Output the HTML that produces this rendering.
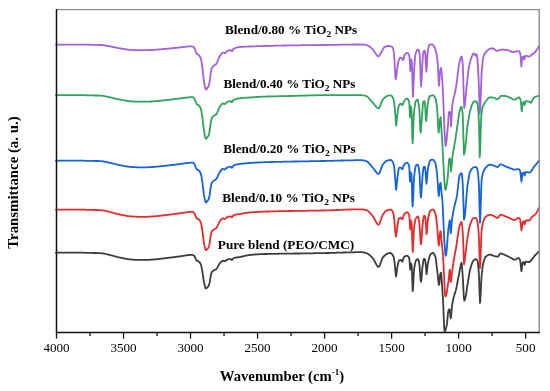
<!DOCTYPE html>
<html><head><meta charset="utf-8"><style>
html,body{margin:0;padding:0;background:#fff;overflow:hidden;width:550px;height:391px;}
svg{display:block;}
text{font-family:"Liberation Serif","Times New Roman",serif;fill:#000;}
.tl{font-size:13.1px;}
.cl{font-size:12.4px;font-weight:bold;}
.ax{font-size:14px;font-weight:bold;}
</style></head><body>
<svg width="550" height="391" viewBox="0 0 550 391">
<rect width="550" height="391" fill="#fff"/>
<g fill="none" stroke-width="1.8" stroke-linejoin="round" stroke-linecap="round"><path d="M56.0,44.6 56.4,44.6 56.7,44.6 57.0,44.6 57.4,44.6 57.8,44.6 58.1,44.6 58.5,44.6 58.8,44.6 59.1,44.6 59.5,44.6 59.9,44.6 60.2,44.6 60.5,44.6 60.9,44.6 61.2,44.6 61.6,44.6 62.0,44.6 62.3,44.6 62.6,44.6 63.0,44.6 63.4,44.6 63.7,44.6 64.0,44.6 64.4,44.6 64.8,44.6 65.1,44.6 65.5,44.6 65.8,44.6 66.2,44.6 66.5,44.6 66.8,44.6 67.2,44.6 67.5,44.6 67.9,44.6 68.2,44.6 68.6,44.6 69.0,44.6 69.3,44.6 69.7,44.6 70.0,44.6 70.4,44.6 70.7,44.6 71.1,44.6 71.4,44.6 71.8,44.6 72.1,44.6 72.5,44.6 72.9,44.6 73.2,44.6 73.6,44.6 73.9,44.6 74.3,44.6 74.6,44.6 75.0,44.6 75.4,44.6 75.7,44.6 76.1,44.6 76.4,44.6 76.8,44.6 77.1,44.6 77.5,44.6 77.9,44.6 78.2,44.6 78.6,44.6 78.9,44.6 79.3,44.6 79.6,44.6 80.0,44.6 80.4,44.6 80.7,44.6 81.1,44.6 81.4,44.6 81.8,44.6 82.1,44.6 82.5,44.6 82.8,44.6 83.2,44.6 83.5,44.6 83.9,44.6 84.2,44.6 84.6,44.6 84.9,44.6 85.3,44.6 85.6,44.6 86.0,44.7 86.4,44.7 86.7,44.7 87.1,44.7 87.4,44.7 87.8,44.7 88.1,44.7 88.5,44.7 88.8,44.7 89.2,44.7 89.5,44.7 89.9,44.7 90.2,44.7 90.6,44.7 90.9,44.7 91.3,44.8 91.6,44.8 92.0,44.8 92.4,44.8 92.7,44.8 93.1,44.8 93.5,44.8 93.8,44.8 94.2,44.8 94.5,44.8 94.9,44.8 95.3,44.8 95.6,44.8 96.0,44.8 96.4,44.9 96.7,44.9 97.1,44.9 97.4,44.9 97.8,44.9 98.2,44.9 98.5,44.9 98.9,44.9 99.3,44.9 99.6,45.0 100.0,45.0 100.3,45.0 100.7,45.0 101.1,45.0 101.4,45.0 101.8,45.0 102.2,45.1 102.5,45.1 102.9,45.1 103.3,45.2 103.7,45.2 104.0,45.3 104.4,45.4 104.8,45.4 105.1,45.5 105.5,45.6 105.9,45.6 106.3,45.7 106.6,45.8 107.0,45.8 107.4,45.9 107.7,46.0 108.1,46.0 108.4,46.1 108.8,46.2 109.1,46.2 109.5,46.3 109.8,46.4 110.2,46.4 110.6,46.5 110.9,46.6 111.3,46.7 111.6,46.7 112.0,46.8 112.3,46.9 112.7,47.0 113.1,47.0 113.4,47.1 113.8,47.2 114.1,47.3 114.5,47.3 114.8,47.4 115.2,47.5 115.5,47.6 115.9,47.6 116.2,47.7 116.6,47.8 116.9,47.9 117.3,47.9 117.6,48.0 118.0,48.1 118.4,48.1 118.7,48.2 119.1,48.3 119.5,48.3 119.9,48.4 120.2,48.5 120.6,48.5 121.0,48.6 121.4,48.6 121.7,48.7 122.1,48.7 122.5,48.8 122.9,48.9 123.2,48.9 123.6,49.0 124.0,49.0 124.3,49.1 124.7,49.1 125.0,49.2 125.4,49.3 125.8,49.3 126.1,49.4 126.5,49.4 126.8,49.5 127.2,49.5 127.6,49.6 127.9,49.6 128.3,49.7 128.6,49.7 129.0,49.8 129.4,49.8 129.7,49.8 130.1,49.8 130.5,49.9 130.8,49.9 131.2,49.9 131.6,49.9 131.9,50.0 132.3,50.0 132.7,50.0 133.0,50.0 133.4,50.0 133.8,50.1 134.1,50.1 134.5,50.1 134.9,50.1 135.2,50.1 135.6,50.1 136.0,50.1 136.3,50.1 136.7,50.2 137.1,50.2 137.4,50.2 137.8,50.2 138.2,50.2 138.5,50.2 138.9,50.2 139.3,50.2 139.6,50.2 140.0,50.2 140.4,50.2 140.7,50.2 141.1,50.2 141.5,50.2 141.8,50.2 142.2,50.2 142.6,50.2 142.9,50.2 143.3,50.2 143.7,50.2 144.0,50.2 144.4,50.2 144.8,50.2 145.1,50.2 145.5,50.2 145.9,50.2 146.2,50.2 146.6,50.2 147.0,50.2 147.3,50.2 147.7,50.2 148.1,50.2 148.4,50.1 148.8,50.1 149.2,50.1 149.5,50.1 149.9,50.1 150.3,50.1 150.6,50.0 151.0,50.0 151.4,50.0 151.7,50.0 152.1,50.0 152.4,50.0 152.8,49.9 153.2,49.9 153.5,49.9 153.9,49.9 154.2,49.9 154.6,49.8 155.0,49.8 155.3,49.8 155.7,49.7 156.0,49.7 156.4,49.7 156.8,49.7 157.1,49.6 157.5,49.6 157.9,49.6 158.3,49.5 158.6,49.5 159.0,49.5 159.4,49.4 159.8,49.4 160.1,49.4 160.5,49.3 160.9,49.3 161.3,49.3 161.6,49.2 162.0,49.2 162.4,49.2 162.7,49.1 163.1,49.1 163.4,49.1 163.8,49.0 164.1,49.0 164.5,49.0 164.8,48.9 165.2,48.9 165.5,48.9 165.9,48.8 166.2,48.8 166.6,48.8 166.9,48.7 167.3,48.7 167.7,48.7 168.0,48.6 168.4,48.6 168.7,48.6 169.1,48.5 169.5,48.5 169.8,48.5 170.2,48.4 170.5,48.4 170.9,48.4 171.3,48.3 171.6,48.3 172.0,48.3 172.3,48.2 172.7,48.2 173.1,48.1 173.4,48.1 173.8,48.1 174.2,48.0 174.5,48.0 174.9,48.0 175.3,47.9 175.6,47.9 176.0,47.9 176.4,47.8 176.7,47.8 177.1,47.7 177.5,47.7 177.8,47.7 178.2,47.6 178.6,47.6 178.9,47.5 179.3,47.5 179.6,47.5 180.0,47.4 180.4,47.4 180.7,47.3 181.1,47.3 181.4,47.3 181.8,47.2 182.2,47.2 182.5,47.1 182.9,47.1 183.2,47.0 183.6,47.0 184.0,47.0 184.3,46.9 184.7,46.9 185.1,46.8 185.4,46.8 185.8,46.7 186.2,46.7 186.5,46.6 186.9,46.6 187.3,46.6 187.6,46.5 188.0,46.5 188.4,46.4 188.7,46.4 189.1,46.4 189.5,46.4 189.9,46.3 190.3,46.3 190.7,46.3 191.1,46.3 191.5,46.3 191.9,46.3 192.2,46.4 192.6,46.5 193.0,46.7 193.4,47.0 193.9,47.4 194.3,48.0 194.7,48.8 195.1,49.9 195.5,51.0 195.9,52.0 196.3,52.8 196.6,53.5 197.0,54.0 197.4,54.2 197.9,54.4 198.3,54.6 198.7,54.9 199.2,55.4 199.6,56.0 200.0,56.7 200.4,57.5 200.8,58.6 201.2,60.0 201.6,61.9 201.9,64.5 202.3,67.3 202.7,70.3 203.0,73.5 203.4,76.6 203.8,80.1 204.3,83.4 204.7,85.9 205.1,87.6 205.5,89.0 205.9,89.6 206.3,89.4 206.7,89.0 207.0,88.4 207.4,87.9 207.8,87.4 208.3,86.7 208.7,85.9 209.1,84.3 209.6,81.9 210.1,78.0 210.6,73.9 211.1,70.7 211.6,68.6 212.0,67.8 212.4,67.2 212.8,66.7 213.2,66.3 213.6,65.9 214.0,65.6 214.4,65.3 214.8,65.1 215.1,64.8 215.5,64.6 215.9,64.3 216.3,63.9 216.7,63.2 217.2,62.3 217.6,61.3 218.0,60.2 218.5,59.0 218.9,58.0 219.3,57.2 219.7,56.5 220.1,55.8 220.5,55.1 220.9,54.6 221.3,54.1 221.7,53.5 222.1,53.1 222.5,52.7 222.9,52.6 223.3,52.7 223.7,52.8 224.1,53.1 224.5,53.2 224.9,53.3 225.3,53.0 225.8,52.5 226.2,52.0 226.6,51.7 227.0,51.3 227.4,51.0 227.8,50.8 228.2,50.6 228.6,50.5 229.0,50.4 229.4,50.3 229.7,50.3 230.1,50.2 230.5,50.2 230.9,50.2 231.4,50.8 231.8,51.3 232.2,51.1 232.6,50.5 232.9,49.8 233.3,49.1 233.7,48.7 234.0,48.5 234.4,48.4 234.8,48.2 235.1,48.1 235.4,47.9 235.8,47.8 236.2,47.7 236.5,47.6 236.8,47.5 237.2,47.4 237.5,47.4 237.9,47.3 238.2,47.2 238.6,47.2 238.9,47.1 239.3,47.1 239.7,47.0 240.0,47.0 240.4,47.0 240.7,46.9 241.1,46.9 241.4,46.9 241.8,46.9 242.1,46.8 242.5,46.8 242.8,46.8 243.2,46.8 243.6,46.7 243.9,46.7 244.3,46.7 244.6,46.7 245.0,46.7 245.3,46.7 245.7,46.7 246.0,46.6 246.4,46.6 246.8,46.6 247.1,46.6 247.5,46.6 247.8,46.6 248.2,46.6 248.5,46.5 248.9,46.5 249.2,46.5 249.6,46.5 249.9,46.5 250.3,46.5 250.7,46.5 251.0,46.4 251.3,46.4 251.7,46.4 252.0,46.4 252.4,46.4 252.8,46.4 253.1,46.4 253.4,46.4 253.8,46.3 254.2,46.3 254.5,46.3 254.8,46.3 255.2,46.3 255.5,46.3 255.9,46.3 256.2,46.3 256.6,46.2 256.9,46.2 257.3,46.2 257.6,46.2 258.0,46.2 258.4,46.2 258.7,46.2 259.1,46.2 259.4,46.2 259.8,46.1 260.1,46.1 260.4,46.1 260.8,46.1 261.1,46.1 261.5,46.1 261.9,46.1 262.2,46.1 262.6,46.1 262.9,46.1 263.2,46.0 263.6,46.0 263.9,46.0 264.3,46.0 264.6,46.0 265.0,46.0 265.4,46.0 265.7,46.0 266.1,46.0 266.4,46.0 266.8,46.0 267.1,45.9 267.5,45.9 267.8,45.9 268.2,45.9 268.5,45.9 268.9,45.9 269.2,45.9 269.6,45.9 270.0,45.9 270.3,45.9 270.7,45.8 271.0,45.8 271.4,45.8 271.7,45.8 272.1,45.8 272.4,45.8 272.8,45.8 273.1,45.8 273.5,45.8 273.9,45.8 274.2,45.8 274.6,45.7 274.9,45.7 275.3,45.7 275.6,45.7 276.0,45.7 276.3,45.7 276.7,45.7 277.0,45.7 277.4,45.7 277.8,45.7 278.1,45.7 278.5,45.6 278.8,45.6 279.2,45.6 279.5,45.6 279.9,45.6 280.2,45.6 280.6,45.6 280.9,45.6 281.3,45.6 281.6,45.6 282.0,45.6 282.4,45.6 282.7,45.5 283.1,45.5 283.4,45.5 283.8,45.5 284.1,45.5 284.5,45.5 284.8,45.5 285.2,45.5 285.5,45.5 285.9,45.5 286.2,45.5 286.6,45.5 287.0,45.5 287.3,45.5 287.7,45.4 288.0,45.4 288.4,45.4 288.7,45.4 289.1,45.4 289.4,45.4 289.8,45.4 290.1,45.4 290.5,45.4 290.9,45.4 291.2,45.4 291.6,45.4 291.9,45.4 292.3,45.4 292.6,45.4 293.0,45.4 293.3,45.4 293.7,45.4 294.0,45.3 294.4,45.3 294.7,45.3 295.1,45.3 295.4,45.3 295.8,45.3 296.2,45.3 296.5,45.3 296.9,45.3 297.2,45.3 297.6,45.3 297.9,45.3 298.3,45.3 298.6,45.3 299.0,45.3 299.3,45.3 299.7,45.3 300.0,45.3 300.4,45.3 300.7,45.3 301.1,45.3 301.5,45.2 301.8,45.2 302.2,45.2 302.5,45.2 302.9,45.2 303.2,45.2 303.6,45.2 303.9,45.2 304.3,45.2 304.6,45.2 305.0,45.2 305.3,45.2 305.7,45.2 306.0,45.2 306.4,45.2 306.8,45.2 307.1,45.2 307.5,45.2 307.8,45.2 308.2,45.2 308.5,45.2 308.9,45.2 309.2,45.2 309.6,45.2 309.9,45.1 310.3,45.1 310.6,45.1 311.0,45.1 311.3,45.1 311.7,45.1 312.0,45.1 312.4,45.1 312.8,45.1 313.1,45.1 313.5,45.1 313.8,45.1 314.2,45.1 314.5,45.1 314.9,45.1 315.2,45.1 315.6,45.1 315.9,45.1 316.3,45.1 316.6,45.1 317.0,45.1 317.3,45.1 317.7,45.1 318.1,45.1 318.4,45.1 318.8,45.1 319.1,45.0 319.5,45.0 319.8,45.0 320.2,45.0 320.5,45.0 320.9,45.0 321.2,45.0 321.6,45.0 321.9,45.0 322.3,45.0 322.6,45.0 323.0,45.0 323.4,45.0 323.7,45.0 324.1,45.0 324.4,45.0 324.8,45.0 325.1,45.0 325.5,45.0 325.8,45.0 326.2,45.0 326.5,45.0 326.9,44.9 327.2,44.9 327.6,44.9 327.9,44.9 328.3,44.9 328.6,44.9 329.0,44.9 329.3,44.9 329.7,44.9 330.0,44.9 330.4,44.9 330.8,44.9 331.1,44.9 331.5,44.9 331.8,44.9 332.2,44.9 332.5,44.9 332.9,44.8 333.2,44.8 333.6,44.8 333.9,44.8 334.3,44.8 334.6,44.8 335.0,44.8 335.3,44.8 335.7,44.8 336.0,44.8 336.4,44.8 336.7,44.8 337.1,44.8 337.4,44.8 337.8,44.8 338.1,44.8 338.5,44.8 338.9,44.7 339.2,44.7 339.6,44.7 339.9,44.7 340.3,44.7 340.6,44.7 341.0,44.7 341.3,44.7 341.7,44.7 342.0,44.7 342.4,44.7 342.7,44.7 343.1,44.7 343.4,44.7 343.8,44.7 344.1,44.7 344.5,44.7 344.8,44.6 345.2,44.6 345.5,44.6 345.9,44.6 346.3,44.6 346.6,44.6 347.0,44.6 347.3,44.6 347.7,44.6 348.0,44.6 348.4,44.6 348.7,44.6 349.1,44.6 349.4,44.6 349.8,44.6 350.1,44.6 350.5,44.6 350.8,44.6 351.2,44.6 351.5,44.6 351.9,44.6 352.2,44.6 352.6,44.5 352.9,44.5 353.3,44.5 353.6,44.5 354.0,44.5 354.4,44.5 354.7,44.5 355.1,44.5 355.4,44.5 355.8,44.5 356.1,44.5 356.5,44.5 356.8,44.5 357.2,44.5 357.5,44.5 357.9,44.5 358.2,44.5 358.6,44.5 358.9,44.5 359.3,44.5 359.6,44.5 360.0,44.5 360.3,44.5 360.7,44.5 361.0,44.5 361.4,44.5 361.8,44.5 362.1,44.5 362.5,44.5 362.8,44.6 363.2,44.6 363.6,44.6 363.9,44.7 364.3,44.7 364.7,44.8 365.0,44.8 365.4,44.9 365.7,44.9 366.1,45.0 366.5,45.1 366.8,45.2 367.2,45.3 367.6,45.4 367.9,45.6 368.3,45.8 368.7,46.0 369.0,46.2 369.4,46.5 369.7,46.7 370.1,47.0 370.5,47.3 370.8,47.6 371.2,47.9 371.6,48.2 371.9,48.5 372.3,48.8 372.7,49.2 373.1,49.7 373.4,50.2 373.8,50.8 374.2,51.4 374.6,52.0 375.0,52.6 375.3,53.2 375.7,53.7 376.1,54.2 376.5,54.7 376.9,55.2 377.2,55.7 377.6,56.1 378.0,56.4 378.4,56.5 378.8,56.3 379.2,55.9 379.5,55.4 379.9,54.7 380.3,54.0 380.7,53.4 381.1,52.8 381.4,52.2 381.8,51.5 382.1,50.8 382.5,50.1 382.8,49.4 383.2,48.8 383.5,48.2 383.9,47.7 384.2,47.3 384.6,47.0 385.0,46.8 385.4,46.6 385.7,46.4 386.1,46.3 386.5,46.2 386.9,46.1 387.2,46.0 387.6,46.0 388.0,46.0 388.3,46.0 388.7,46.0 389.0,46.1 389.4,46.1 389.7,46.1 390.1,46.2 390.4,46.3 390.8,46.3 391.1,46.4 391.5,46.5 391.9,46.7 392.3,47.1 392.7,47.7 393.1,48.5 393.5,49.5 394.0,54.0 394.5,61.0 394.9,68.1 395.3,75.8 395.7,79.4 396.1,77.6 396.6,73.8 397.0,70.2 397.4,67.9 397.7,65.5 398.1,63.3 398.4,61.5 398.8,60.2 399.2,59.2 399.6,58.4 399.9,57.8 400.3,57.6 400.7,57.7 401.1,57.8 401.5,58.0 401.9,58.3 402.3,58.9 402.7,59.8 403.1,60.2 403.5,59.5 403.9,57.8 404.2,56.0 404.6,54.9 405.0,54.4 405.3,54.0 405.7,53.7 406.1,53.4 406.5,53.2 406.8,53.0 407.2,53.0 407.6,53.1 408.0,53.3 408.4,53.6 408.8,54.1 409.2,55.2 409.5,57.5 409.9,61.0 410.3,71.0 410.7,65.2 411.1,59.5 411.5,60.4 411.9,62.6 412.4,80.4 412.9,96.5 413.3,90.6 413.8,78.6 414.2,68.7 414.6,63.6 414.9,58.9 415.3,55.4 415.7,53.3 416.1,52.2 416.5,51.3 416.9,50.5 417.2,50.0 417.6,49.6 418.0,49.5 418.4,49.7 418.7,50.2 419.1,51.0 419.6,54.0 420.0,59.5 420.4,68.7 420.7,80.6 421.1,86.5 421.6,79.5 422.1,68.7 422.5,61.6 423.0,55.1 423.4,51.8 423.8,51.2 424.2,50.7 424.6,50.6 425.1,52.4 425.5,56.4 425.9,65.2 426.4,71.8 426.9,64.3 427.4,54.9 427.8,52.2 428.1,49.9 428.4,47.9 428.8,46.4 429.1,45.4 429.5,44.9 429.9,44.8 430.3,44.6 430.6,44.5 431.0,44.5 431.4,44.4 431.8,44.4 432.2,44.5 432.6,44.7 433.0,45.0 433.3,45.4 433.7,45.9 434.1,46.4 434.5,47.0 434.9,47.9 435.2,48.9 435.6,50.2 436.0,51.7 436.4,53.3 436.8,55.4 437.1,58.1 437.5,61.6 437.9,65.6 438.3,72.7 438.6,81.5 439.0,85.8 439.4,80.4 439.9,73.3 440.4,69.6 440.9,67.9 441.3,69.5 441.7,73.3 442.1,77.9 442.5,83.8 442.9,91.5 443.3,100.0 443.7,109.8 444.1,120.7 444.5,130.0 445.0,140.4 445.5,146.0 445.9,145.2 446.2,143.2 446.6,140.2 446.9,136.7 447.2,133.0 447.6,129.5 448.0,124.7 448.4,118.9 448.7,114.0 449.1,111.9 449.5,112.0 450.0,112.2 450.4,112.6 451.0,126.5 451.4,122.1 451.8,113.2 452.2,106.5 452.6,103.6 453.0,101.3 453.4,99.4 453.8,97.7 454.1,96.2 454.5,94.7 454.9,93.0 455.3,91.1 455.7,89.0 456.1,86.8 456.4,84.5 456.8,82.0 457.2,79.3 457.5,76.2 457.9,73.0 458.3,69.9 458.6,67.1 459.0,65.0 459.4,63.3 459.7,61.6 460.1,60.0 460.4,58.6 460.8,57.5 461.1,56.8 461.5,56.5 461.9,57.7 462.4,61.0 462.8,65.7 463.2,76.3 463.6,90.0 464.3,108.0 464.7,105.8 465.1,102.0 465.5,98.7 465.8,95.1 466.2,91.3 466.5,87.6 466.9,84.2 467.3,80.7 467.7,77.2 468.0,73.8 468.4,70.7 468.8,67.9 469.2,65.7 469.6,63.9 470.0,62.2 470.4,60.7 470.7,59.4 471.1,58.3 471.5,57.3 471.9,56.4 472.3,55.5 472.6,54.7 473.0,54.0 473.4,53.6 473.8,53.4 474.2,53.8 474.6,54.5 475.0,55.3 475.4,55.7 475.8,55.3 476.2,54.6 476.6,54.2 477.0,55.5 477.3,58.6 477.7,62.6 478.1,69.3 478.6,78.8 479.0,90.0 479.7,113.6 480.1,109.5 480.6,99.9 481.0,89.0 481.5,75.0 481.9,69.8 482.3,65.5 482.6,61.9 483.0,59.1 483.4,57.0 483.8,55.7 484.2,54.8 484.6,54.0 485.0,53.3 485.4,52.8 485.7,52.3 486.1,51.9 486.5,51.5 486.9,51.1 487.3,50.7 487.7,50.4 488.0,50.0 488.4,49.7 488.8,49.3 489.2,49.1 489.6,48.8 489.9,48.7 490.3,48.5 490.7,48.5 491.1,48.5 491.5,48.5 491.9,48.5 492.2,48.5 492.6,48.5 493.0,48.5 493.4,48.6 493.7,48.7 494.1,48.9 494.4,49.2 494.8,49.5 495.1,49.8 495.5,50.1 495.8,50.4 496.2,50.6 496.5,50.7 496.9,50.8 497.3,50.8 497.6,50.7 498.0,50.6 498.3,50.5 498.7,50.4 499.0,50.3 499.4,50.1 499.7,50.0 500.1,49.9 500.4,49.8 500.8,49.7 501.1,49.6 501.5,49.6 501.9,49.6 502.2,49.6 502.6,49.6 502.9,49.7 503.3,49.7 503.6,49.7 504.0,49.7 504.3,49.8 504.7,49.8 505.0,49.9 505.4,49.9 505.7,50.0 506.1,50.0 506.5,50.0 506.8,50.1 507.2,50.2 507.5,50.2 507.9,50.3 508.2,50.4 508.6,50.4 508.9,50.5 509.3,50.6 509.6,50.7 510.0,50.8 510.3,51.0 510.7,51.1 511.1,51.4 511.5,51.7 511.8,52.1 512.2,52.2 512.6,52.2 513.0,52.1 513.4,52.1 513.8,52.0 514.1,51.9 514.5,51.8 514.9,51.7 515.3,51.6 515.7,51.5 516.1,51.5 516.4,51.4 516.8,51.3 517.2,51.3 517.6,51.2 518.0,51.2 518.3,51.1 518.7,51.1 519.1,51.1 519.5,51.5 519.9,52.6 520.3,54.3 520.7,56.5 521.4,66.5 521.8,62.5 522.2,58.0 522.6,57.2 522.9,56.7 523.3,56.5 523.8,58.0 524.2,59.6 524.6,58.6 524.9,56.7 525.3,55.7 525.7,55.7 526.1,55.8 526.4,55.9 526.8,56.0 527.2,56.1 527.6,56.2 528.0,56.3 528.3,56.4 528.7,56.5 529.1,56.5 529.5,56.4 529.9,56.2 530.3,56.0 530.7,55.6 531.0,55.3 531.4,54.9 531.8,54.5 532.2,54.2 532.6,53.9 533.0,53.7 533.4,53.4 533.8,53.2 534.1,52.9 534.5,52.6 534.9,52.3 535.3,51.9 535.7,51.4 536.0,50.8 536.4,50.2 536.8,49.6 537.2,49.0 537.5,48.4 537.9,47.8 538.3,47.3 538.6,46.9 539.0,46.5" stroke="#a45ee0" /><path d="M56.0,95.2 56.4,95.2 56.7,95.2 57.0,95.2 57.4,95.2 57.8,95.2 58.1,95.2 58.5,95.2 58.8,95.2 59.1,95.2 59.5,95.2 59.9,95.2 60.2,95.2 60.5,95.2 60.9,95.2 61.2,95.2 61.6,95.2 62.0,95.2 62.3,95.2 62.6,95.2 63.0,95.2 63.4,95.2 63.7,95.2 64.0,95.2 64.4,95.2 64.8,95.2 65.1,95.2 65.5,95.2 65.8,95.2 66.2,95.2 66.5,95.2 66.8,95.2 67.2,95.2 67.5,95.2 67.9,95.2 68.2,95.2 68.6,95.2 69.0,95.2 69.3,95.2 69.7,95.2 70.0,95.2 70.4,95.2 70.7,95.2 71.1,95.2 71.4,95.2 71.8,95.2 72.1,95.2 72.5,95.2 72.9,95.2 73.2,95.2 73.6,95.2 73.9,95.2 74.3,95.2 74.6,95.2 75.0,95.2 75.4,95.2 75.7,95.2 76.1,95.2 76.4,95.2 76.8,95.2 77.1,95.2 77.5,95.2 77.9,95.2 78.2,95.2 78.6,95.2 78.9,95.2 79.3,95.2 79.6,95.2 80.0,95.2 80.4,95.2 80.7,95.2 81.1,95.2 81.4,95.2 81.8,95.2 82.1,95.2 82.5,95.2 82.8,95.2 83.2,95.2 83.5,95.2 83.9,95.2 84.2,95.2 84.6,95.2 84.9,95.2 85.3,95.3 85.6,95.3 86.0,95.3 86.4,95.3 86.7,95.3 87.1,95.3 87.4,95.3 87.8,95.3 88.1,95.3 88.5,95.3 88.8,95.3 89.2,95.3 89.5,95.3 89.9,95.3 90.2,95.4 90.6,95.4 90.9,95.4 91.3,95.4 91.6,95.4 92.0,95.4 92.4,95.4 92.7,95.4 93.1,95.4 93.5,95.4 93.8,95.4 94.2,95.4 94.5,95.5 94.9,95.5 95.3,95.5 95.6,95.5 96.0,95.5 96.4,95.5 96.7,95.5 97.1,95.5 97.4,95.5 97.8,95.5 98.2,95.6 98.5,95.6 98.9,95.6 99.3,95.6 99.6,95.6 100.0,95.6 100.3,95.6 100.7,95.7 101.1,95.7 101.4,95.7 101.8,95.7 102.2,95.7 102.5,95.8 102.9,95.8 103.3,95.9 103.7,95.9 104.0,96.0 104.4,96.1 104.8,96.2 105.1,96.2 105.5,96.3 105.9,96.4 106.3,96.5 106.6,96.6 107.0,96.6 107.4,96.7 107.7,96.8 108.1,96.9 108.4,96.9 108.8,97.0 109.1,97.1 109.5,97.2 109.8,97.3 110.2,97.3 110.6,97.4 110.9,97.5 111.3,97.6 111.6,97.7 112.0,97.8 112.3,97.8 112.7,97.9 113.1,98.0 113.4,98.1 113.8,98.2 114.1,98.3 114.5,98.4 114.8,98.5 115.2,98.6 115.5,98.6 115.9,98.7 116.2,98.8 116.6,98.9 116.9,99.0 117.3,99.1 117.6,99.2 118.0,99.2 118.4,99.3 118.7,99.4 119.1,99.5 119.5,99.5 119.9,99.6 120.2,99.7 120.6,99.7 121.0,99.8 121.4,99.9 121.7,99.9 122.1,100.0 122.5,100.1 122.9,100.1 123.2,100.2 123.6,100.3 124.0,100.3 124.3,100.4 124.7,100.5 125.0,100.5 125.4,100.6 125.8,100.7 126.1,100.7 126.5,100.8 126.8,100.9 127.2,100.9 127.6,101.0 127.9,101.0 128.3,101.1 128.6,101.1 129.0,101.2 129.4,101.2 129.7,101.3 130.1,101.3 130.5,101.3 130.8,101.3 131.2,101.4 131.6,101.4 131.9,101.4 132.3,101.5 132.7,101.5 133.0,101.5 133.4,101.5 133.8,101.5 134.1,101.6 134.5,101.6 134.9,101.6 135.2,101.6 135.6,101.6 136.0,101.6 136.3,101.6 136.7,101.6 137.1,101.7 137.4,101.7 137.8,101.7 138.2,101.7 138.5,101.7 138.9,101.7 139.3,101.7 139.6,101.7 140.0,101.7 140.4,101.7 140.7,101.7 141.1,101.7 141.5,101.7 141.8,101.7 142.2,101.7 142.6,101.7 142.9,101.7 143.3,101.7 143.7,101.7 144.0,101.7 144.4,101.7 144.8,101.7 145.1,101.7 145.5,101.7 145.9,101.7 146.2,101.7 146.6,101.7 147.0,101.7 147.3,101.7 147.7,101.7 148.1,101.6 148.4,101.6 148.8,101.6 149.2,101.6 149.5,101.6 149.9,101.6 150.3,101.5 150.6,101.5 151.0,101.5 151.4,101.5 151.7,101.5 152.1,101.4 152.4,101.4 152.8,101.4 153.2,101.4 153.5,101.3 153.9,101.3 154.2,101.3 154.6,101.3 155.0,101.2 155.3,101.2 155.7,101.2 156.0,101.1 156.4,101.1 156.8,101.1 157.1,101.0 157.5,101.0 157.9,101.0 158.3,100.9 158.6,100.9 159.0,100.9 159.4,100.8 159.8,100.8 160.1,100.7 160.5,100.7 160.9,100.7 161.3,100.6 161.6,100.6 162.0,100.5 162.4,100.5 162.7,100.5 163.1,100.4 163.4,100.4 163.8,100.3 164.1,100.3 164.5,100.3 164.8,100.2 165.2,100.2 165.5,100.1 165.9,100.1 166.2,100.1 166.6,100.0 166.9,100.0 167.3,99.9 167.7,99.9 168.0,99.9 168.4,99.8 168.7,99.8 169.1,99.8 169.5,99.7 169.8,99.7 170.2,99.6 170.5,99.6 170.9,99.6 171.3,99.5 171.6,99.5 172.0,99.4 172.3,99.4 172.7,99.4 173.1,99.3 173.4,99.3 173.8,99.2 174.2,99.2 174.5,99.2 174.9,99.1 175.3,99.1 175.6,99.0 176.0,99.0 176.4,98.9 176.7,98.9 177.1,98.8 177.5,98.8 177.8,98.8 178.2,98.7 178.6,98.7 178.9,98.6 179.3,98.6 179.6,98.5 180.0,98.5 180.4,98.4 180.7,98.4 181.1,98.3 181.4,98.3 181.8,98.2 182.2,98.2 182.5,98.1 182.9,98.1 183.2,98.0 183.6,98.0 184.0,97.9 184.3,97.9 184.7,97.8 185.1,97.8 185.4,97.7 185.8,97.7 186.2,97.6 186.5,97.6 186.9,97.5 187.3,97.5 187.6,97.4 188.0,97.4 188.4,97.3 188.7,97.3 189.1,97.3 189.5,97.3 189.9,97.2 190.3,97.2 190.7,97.2 191.1,97.2 191.5,97.2 191.9,97.2 192.2,97.2 192.6,97.2 193.0,97.3 193.4,97.5 193.9,98.0 194.3,98.6 194.7,99.3 195.1,100.4 195.5,101.5 195.9,102.4 196.3,103.2 196.6,103.9 197.0,104.4 197.4,104.6 197.9,104.8 198.3,105.0 198.7,105.3 199.2,105.8 199.6,106.3 200.0,107.0 200.4,107.8 200.8,108.9 201.2,110.2 201.6,112.0 201.9,114.5 202.3,117.2 202.7,120.1 203.0,123.2 203.4,126.2 203.8,129.5 204.3,132.7 204.7,135.1 205.1,136.8 205.5,138.1 205.9,138.7 206.3,138.5 206.7,138.1 207.0,137.6 207.4,137.1 207.8,136.6 208.3,136.0 208.7,135.2 209.1,133.6 209.6,131.3 210.1,127.6 210.6,123.7 211.1,120.7 211.6,118.6 212.0,117.8 212.4,117.2 212.8,116.8 213.2,116.4 213.6,116.0 214.0,115.7 214.4,115.5 214.8,115.3 215.1,115.1 215.5,114.8 215.9,114.5 216.3,114.2 216.7,113.5 217.2,112.6 217.6,111.7 218.0,110.7 218.5,109.5 218.9,108.5 219.3,107.8 219.7,107.1 220.1,106.4 220.5,105.8 220.9,105.3 221.3,104.8 221.7,104.3 222.1,103.9 222.5,103.5 222.9,103.4 223.3,103.5 223.7,103.7 224.1,103.9 224.5,104.0 224.9,104.1 225.3,103.9 225.8,103.4 226.2,102.9 226.6,102.6 227.0,102.2 227.4,102.0 227.8,101.7 228.2,101.6 228.6,101.5 229.0,101.4 229.4,101.4 229.7,101.3 230.1,101.3 230.5,101.2 230.9,101.2 231.4,101.8 231.8,102.3 232.2,102.1 232.6,101.5 232.9,100.8 233.3,100.2 233.7,99.8 234.0,99.7 234.4,99.5 234.8,99.4 235.1,99.3 235.4,99.2 235.8,99.1 236.2,99.0 236.5,98.9 236.8,98.8 237.2,98.7 237.5,98.7 237.9,98.6 238.2,98.5 238.6,98.5 238.9,98.4 239.3,98.4 239.7,98.3 240.0,98.3 240.4,98.3 240.7,98.2 241.1,98.2 241.4,98.1 241.8,98.1 242.1,98.1 242.5,98.0 242.8,98.0 243.2,98.0 243.6,97.9 243.9,97.9 244.3,97.9 244.6,97.8 245.0,97.8 245.3,97.8 245.7,97.8 246.0,97.7 246.4,97.7 246.8,97.7 247.1,97.7 247.5,97.6 247.8,97.6 248.2,97.6 248.5,97.6 248.9,97.5 249.2,97.5 249.6,97.5 249.9,97.5 250.3,97.5 250.7,97.4 251.0,97.4 251.3,97.4 251.7,97.4 252.0,97.3 252.4,97.3 252.8,97.3 253.1,97.3 253.4,97.2 253.8,97.2 254.2,97.2 254.5,97.2 254.8,97.1 255.2,97.1 255.5,97.1 255.9,97.1 256.2,97.0 256.6,97.0 256.9,97.0 257.3,97.0 257.6,97.0 258.0,96.9 258.4,96.9 258.7,96.9 259.1,96.9 259.4,96.9 259.8,96.8 260.1,96.8 260.4,96.8 260.8,96.8 261.1,96.8 261.5,96.7 261.9,96.7 262.2,96.7 262.6,96.7 262.9,96.7 263.2,96.7 263.6,96.7 263.9,96.6 264.3,96.6 264.6,96.6 265.0,96.6 265.4,96.6 265.7,96.6 266.1,96.6 266.4,96.6 266.8,96.5 267.1,96.5 267.5,96.5 267.8,96.5 268.2,96.5 268.5,96.5 268.9,96.5 269.2,96.5 269.6,96.5 269.9,96.4 270.3,96.4 270.6,96.4 271.0,96.4 271.3,96.4 271.7,96.4 272.0,96.4 272.4,96.4 272.7,96.4 273.1,96.4 273.5,96.4 273.8,96.3 274.2,96.3 274.5,96.3 274.9,96.3 275.2,96.3 275.6,96.3 275.9,96.3 276.3,96.3 276.6,96.3 277.0,96.3 277.3,96.3 277.7,96.3 278.0,96.3 278.4,96.2 278.7,96.2 279.1,96.2 279.4,96.2 279.8,96.2 280.1,96.2 280.5,96.2 280.8,96.2 281.2,96.2 281.5,96.2 281.9,96.2 282.3,96.2 282.6,96.2 283.0,96.2 283.3,96.1 283.7,96.1 284.0,96.1 284.4,96.1 284.7,96.1 285.1,96.1 285.4,96.1 285.8,96.1 286.1,96.1 286.5,96.1 286.8,96.1 287.2,96.1 287.5,96.1 287.9,96.0 288.2,96.0 288.6,96.0 288.9,96.0 289.3,96.0 289.6,96.0 290.0,96.0 290.4,96.0 290.7,96.0 291.1,96.0 291.4,96.0 291.8,96.0 292.1,95.9 292.5,95.9 292.8,95.9 293.2,95.9 293.5,95.9 293.9,95.9 294.2,95.9 294.6,95.9 294.9,95.9 295.3,95.9 295.6,95.8 296.0,95.8 296.3,95.8 296.7,95.8 297.0,95.8 297.4,95.8 297.7,95.8 298.1,95.8 298.4,95.8 298.8,95.7 299.1,95.7 299.5,95.7 299.8,95.7 300.2,95.7 300.5,95.7 300.9,95.7 301.2,95.7 301.6,95.7 301.9,95.6 302.3,95.6 302.6,95.6 303.0,95.6 303.3,95.6 303.7,95.6 304.0,95.6 304.4,95.6 304.7,95.6 305.1,95.5 305.4,95.5 305.8,95.5 306.1,95.5 306.5,95.5 306.8,95.5 307.2,95.5 307.5,95.5 307.9,95.5 308.2,95.5 308.6,95.4 308.9,95.4 309.3,95.4 309.6,95.4 310.0,95.4 310.3,95.4 310.7,95.4 311.0,95.4 311.4,95.4 311.7,95.4 312.1,95.4 312.4,95.3 312.8,95.3 313.1,95.3 313.5,95.3 313.8,95.3 314.2,95.3 314.5,95.3 314.9,95.3 315.2,95.3 315.6,95.3 315.9,95.3 316.3,95.3 316.6,95.3 317.0,95.3 317.3,95.2 317.7,95.2 318.0,95.2 318.4,95.2 318.7,95.2 319.1,95.2 319.4,95.2 319.8,95.2 320.1,95.2 320.5,95.2 320.8,95.2 321.2,95.2 321.5,95.2 321.9,95.2 322.2,95.2 322.6,95.2 322.9,95.2 323.3,95.2 323.7,95.2 324.0,95.2 324.4,95.2 324.7,95.2 325.1,95.2 325.4,95.2 325.8,95.2 326.1,95.2 326.4,95.2 326.8,95.2 327.2,95.2 327.5,95.2 327.9,95.2 328.2,95.2 328.6,95.2 328.9,95.2 329.2,95.2 329.6,95.2 329.9,95.2 330.3,95.2 330.7,95.2 331.0,95.2 331.4,95.2 331.7,95.2 332.1,95.2 332.4,95.2 332.8,95.2 333.1,95.2 333.4,95.2 333.8,95.2 334.2,95.2 334.5,95.2 334.9,95.2 335.2,95.2 335.6,95.2 335.9,95.2 336.2,95.2 336.6,95.2 336.9,95.2 337.3,95.2 337.7,95.2 338.0,95.2 338.4,95.2 338.7,95.2 339.1,95.2 339.4,95.2 339.8,95.2 340.1,95.2 340.5,95.2 340.8,95.2 341.2,95.2 341.5,95.2 341.9,95.2 342.2,95.2 342.6,95.2 342.9,95.2 343.2,95.2 343.6,95.2 344.0,95.2 344.3,95.2 344.7,95.2 345.0,95.2 345.4,95.2 345.7,95.2 346.1,95.2 346.4,95.2 346.8,95.2 347.1,95.2 347.5,95.2 347.8,95.2 348.2,95.2 348.5,95.2 348.9,95.2 349.2,95.2 349.6,95.2 349.9,95.2 350.2,95.2 350.6,95.2 351.0,95.2 351.3,95.2 351.7,95.2 352.0,95.2 352.4,95.2 352.7,95.2 353.1,95.2 353.4,95.2 353.8,95.2 354.1,95.2 354.5,95.2 354.8,95.2 355.2,95.2 355.5,95.2 355.9,95.2 356.2,95.2 356.6,95.2 356.9,95.2 357.2,95.2 357.6,95.2 358.0,95.2 358.3,95.2 358.7,95.2 359.0,95.2 359.4,95.2 359.7,95.2 360.1,95.2 360.4,95.2 360.8,95.2 361.1,95.2 361.5,95.2 361.9,95.2 362.2,95.3 362.6,95.3 363.0,95.3 363.4,95.4 363.7,95.5 364.1,95.5 364.5,95.6 364.9,95.7 365.2,95.8 365.6,95.9 366.0,96.0 366.4,96.1 366.7,96.3 367.1,96.5 367.4,96.7 367.8,97.0 368.1,97.4 368.5,97.7 368.8,98.1 369.2,98.5 369.5,98.9 369.9,99.3 370.2,99.7 370.6,100.1 370.9,100.5 371.3,101.0 371.6,101.4 372.0,101.8 372.3,102.1 372.7,102.5 373.1,102.9 373.4,103.3 373.8,103.7 374.1,104.2 374.5,104.7 374.9,105.2 375.2,105.7 375.6,106.1 376.0,106.6 376.3,107.0 376.7,107.3 377.1,107.7 377.4,107.9 377.8,108.1 378.1,108.3 378.5,108.3 378.9,108.2 379.2,107.8 379.6,107.2 380.0,106.4 380.3,105.5 380.7,104.5 381.1,103.5 381.4,102.5 381.8,101.6 382.2,100.7 382.5,100.0 382.9,99.5 383.3,99.1 383.6,98.7 384.0,98.3 384.4,97.9 384.7,97.6 385.1,97.3 385.5,97.0 385.9,96.7 386.2,96.4 386.6,96.2 387.0,96.0 387.3,95.9 387.7,95.8 388.1,95.7 388.5,95.6 388.9,95.6 389.2,95.5 389.6,95.5 390.0,95.4 390.4,95.4 390.8,95.4 391.2,95.5 391.6,95.8 391.9,96.2 392.3,96.8 392.7,97.5 393.1,98.3 393.4,99.3 393.8,100.4 394.2,102.6 394.6,106.3 395.0,110.9 395.4,115.7 395.8,121.7 396.1,125.7 396.5,123.7 396.8,119.4 397.2,115.7 397.6,112.9 398.0,110.2 398.4,107.9 398.8,106.0 399.2,105.0 399.6,104.5 399.9,104.1 400.3,103.8 400.7,103.7 401.1,103.9 401.5,104.3 401.9,104.8 402.3,105.0 402.7,104.6 403.1,103.6 403.4,102.4 403.8,101.6 404.2,101.0 404.6,100.5 405.0,100.0 405.4,99.5 405.7,99.1 406.1,98.8 406.5,98.6 406.9,98.5 407.3,98.6 407.7,98.8 408.0,99.3 408.4,99.9 408.8,100.8 409.2,101.9 409.6,109.9 410.0,117.3 410.7,106.5 411.1,107.4 411.5,109.6 411.9,119.4 412.2,135.2 412.6,143.4 413.0,137.3 413.4,125.0 413.8,115.7 414.2,111.6 414.5,108.1 414.9,105.2 415.2,103.1 415.6,101.9 416.0,101.1 416.4,100.5 416.8,100.0 417.2,99.7 417.6,99.6 418.0,100.3 418.4,102.2 418.8,104.9 419.2,108.0 419.6,113.5 419.9,121.8 420.3,129.3 420.7,132.6 421.1,130.0 421.4,124.3 421.8,118.8 422.2,113.7 422.6,108.3 422.9,104.0 423.3,101.9 423.7,101.5 424.1,101.2 424.5,101.1 424.9,103.4 425.3,108.0 425.7,115.7 426.1,121.1 426.5,119.0 426.9,114.2 427.2,108.8 427.6,105.0 428.0,102.8 428.4,100.8 428.8,99.0 429.1,97.6 429.5,96.6 429.9,96.1 430.3,95.9 430.7,95.8 431.1,95.7 431.4,95.6 431.8,95.5 432.2,95.4 432.6,95.4 433.0,95.4 433.4,95.5 433.8,95.8 434.1,96.2 434.5,96.7 434.9,97.4 435.3,98.1 435.7,99.1 436.0,100.7 436.4,102.7 436.7,105.2 437.1,108.0 437.5,113.7 437.9,121.9 438.3,129.4 438.7,132.6 439.1,129.9 439.5,124.4 439.9,120.3 440.3,118.3 440.7,117.3 441.4,128.0 441.8,135.0 442.3,142.4 442.7,150.0 443.1,158.6 443.6,167.5 444.0,175.0 444.4,181.6 444.9,187.4 445.3,189.9 445.7,189.4 446.1,188.1 446.5,186.2 446.8,183.8 447.2,181.1 447.6,178.4 448.0,174.7 448.3,169.5 448.7,164.2 449.0,160.1 449.4,158.4 449.9,158.8 450.4,160.0 451.0,171.5 451.4,168.8 451.8,163.2 452.2,158.4 452.6,155.5 453.0,152.9 453.4,150.7 453.8,148.6 454.1,146.5 454.5,144.5 454.9,142.3 455.3,140.0 455.7,137.6 456.0,135.1 456.4,132.6 456.8,130.0 457.1,127.5 457.5,125.0 457.9,122.5 458.2,119.9 458.6,117.3 458.9,114.9 459.2,112.9 459.6,111.3 460.0,109.9 460.4,108.7 460.7,107.6 461.1,106.9 461.5,106.6 461.9,107.6 462.3,110.4 462.7,114.4 463.1,125.3 463.5,140.0 464.0,154.7 464.5,153.1 465.0,150.0 465.4,147.0 465.8,143.1 466.2,138.7 466.6,134.2 467.0,130.1 467.4,126.7 467.8,124.0 468.2,121.5 468.6,119.1 468.9,116.8 469.3,114.7 469.7,112.8 470.1,111.2 470.5,109.7 470.9,108.4 471.2,107.1 471.6,105.9 472.0,104.8 472.4,103.8 472.8,103.0 473.1,102.4 473.5,102.0 473.9,101.8 474.3,101.6 474.7,101.4 475.1,101.3 475.5,101.2 475.9,101.2 476.3,101.4 476.6,101.8 477.0,102.6 477.4,103.5 477.8,105.6 478.2,109.8 478.6,115.8 479.0,123.6 479.7,157.3 480.1,151.6 480.5,138.6 480.9,124.6 481.3,115.9 481.7,112.6 482.1,109.9 482.4,108.0 482.8,106.6 483.2,105.6 483.6,104.7 484.0,103.9 484.4,103.3 484.7,102.7 485.1,102.2 485.5,101.7 485.9,101.2 486.3,100.7 486.6,100.3 487.0,99.8 487.3,99.3 487.7,98.9 488.0,98.5 488.4,98.1 488.7,97.8 489.1,97.6 489.4,97.5 489.8,97.4 490.2,97.4 490.6,97.4 490.9,97.4 491.3,97.5 491.7,97.5 492.1,97.5 492.5,97.6 492.8,97.6 493.2,97.7 493.6,97.7 494.0,97.8 494.3,97.9 494.7,98.0 495.0,98.2 495.4,98.4 495.7,98.6 496.1,98.8 496.4,99.0 496.8,99.1 497.1,99.2 497.5,99.2 497.9,99.1 498.2,98.9 498.6,98.6 498.9,98.2 499.3,97.7 499.6,97.3 500.0,96.8 500.3,96.4 500.7,96.1 501.0,95.9 501.4,95.8 501.8,95.8 502.1,95.8 502.5,95.8 502.8,95.8 503.2,95.9 503.5,95.9 503.9,95.9 504.2,95.9 504.6,96.0 504.9,96.0 505.3,96.0 505.6,96.1 506.0,96.1 506.4,96.2 506.7,96.2 507.1,96.4 507.4,96.5 507.8,96.7 508.1,96.8 508.5,97.0 508.8,97.2 509.2,97.4 509.5,97.6 509.9,97.8 510.2,97.9 510.6,98.1 511.0,98.3 511.3,98.4 511.7,98.6 512.0,98.8 512.4,99.0 512.7,99.2 513.1,99.4 513.4,99.5 513.8,99.6 514.1,99.7 514.5,99.7 514.9,99.6 515.3,99.5 515.6,99.3 516.0,99.1 516.4,98.8 516.8,98.6 517.2,98.4 517.6,98.1 518.0,97.9 518.3,97.6 518.7,97.5 519.1,97.4 519.5,97.6 519.9,98.3 520.3,99.3 520.7,100.5 521.1,103.9 521.4,108.8 521.8,111.3 522.2,107.7 522.7,103.5 523.1,102.7 523.4,102.2 523.8,102.0 524.2,103.4 524.6,104.8 525.0,103.9 525.4,102.1 525.8,101.2 526.2,101.2 526.6,101.2 526.9,101.3 527.3,101.3 527.7,101.4 528.1,101.4 528.4,101.5 528.8,101.6 529.2,101.7 529.6,101.9 530.0,102.3 530.3,102.6 530.7,102.8 531.1,102.6 531.5,102.1 531.9,101.4 532.2,100.5 532.6,99.6 533.0,98.8 533.4,98.1 533.8,97.7 534.2,97.4 534.6,97.2 535.0,97.1 535.3,96.9 535.7,96.7 536.1,96.6 536.5,96.5 536.9,96.3 537.3,96.2 537.7,96.1 538.1,96.0 538.5,95.8 539.0,95.5" stroke="#2ea35c" /><path d="M56.0,160.7 56.4,160.7 56.7,160.7 57.0,160.7 57.4,160.7 57.8,160.7 58.1,160.7 58.5,160.7 58.8,160.7 59.1,160.7 59.5,160.7 59.9,160.7 60.2,160.7 60.5,160.7 60.9,160.7 61.2,160.7 61.6,160.7 62.0,160.7 62.3,160.7 62.6,160.7 63.0,160.7 63.4,160.7 63.7,160.7 64.0,160.7 64.4,160.7 64.8,160.7 65.1,160.7 65.5,160.7 65.8,160.7 66.2,160.7 66.5,160.7 66.8,160.7 67.2,160.7 67.5,160.7 67.9,160.7 68.2,160.7 68.6,160.7 69.0,160.7 69.3,160.7 69.7,160.7 70.0,160.7 70.4,160.7 70.7,160.7 71.1,160.7 71.4,160.7 71.8,160.7 72.1,160.7 72.5,160.7 72.9,160.7 73.2,160.7 73.6,160.7 73.9,160.7 74.3,160.7 74.6,160.7 75.0,160.7 75.4,160.7 75.7,160.7 76.1,160.7 76.4,160.7 76.8,160.7 77.1,160.7 77.5,160.7 77.9,160.7 78.2,160.7 78.6,160.7 78.9,160.7 79.3,160.7 79.6,160.7 80.0,160.7 80.4,160.7 80.7,160.7 81.1,160.7 81.4,160.7 81.8,160.7 82.1,160.7 82.5,160.7 82.8,160.7 83.2,160.7 83.5,160.7 83.9,160.7 84.2,160.7 84.6,160.7 84.9,160.7 85.3,160.8 85.6,160.8 86.0,160.8 86.4,160.8 86.7,160.8 87.1,160.8 87.4,160.8 87.8,160.8 88.1,160.8 88.5,160.8 88.8,160.8 89.2,160.8 89.5,160.8 89.9,160.8 90.2,160.9 90.6,160.9 90.9,160.9 91.3,160.9 91.6,160.9 92.0,160.9 92.4,160.9 92.7,160.9 93.1,160.9 93.5,160.9 93.8,160.9 94.2,160.9 94.5,161.0 94.9,161.0 95.3,161.0 95.6,161.0 96.0,161.0 96.4,161.0 96.7,161.0 97.1,161.0 97.4,161.0 97.8,161.0 98.2,161.1 98.5,161.1 98.9,161.1 99.3,161.1 99.6,161.1 100.0,161.1 100.3,161.1 100.7,161.2 101.1,161.2 101.4,161.2 101.8,161.2 102.2,161.3 102.5,161.3 102.9,161.3 103.3,161.4 103.7,161.5 104.0,161.5 104.4,161.6 104.8,161.7 105.1,161.8 105.5,161.8 105.9,161.9 106.3,162.0 106.6,162.1 107.0,162.2 107.4,162.2 107.7,162.3 108.1,162.4 108.4,162.5 108.8,162.5 109.1,162.6 109.5,162.7 109.8,162.8 110.2,162.9 110.6,163.0 110.9,163.0 111.3,163.1 111.6,163.2 112.0,163.3 112.3,163.4 112.7,163.5 113.1,163.6 113.4,163.6 113.8,163.7 114.1,163.8 114.5,163.9 114.8,164.0 115.2,164.1 115.5,164.2 115.9,164.3 116.2,164.4 116.6,164.5 116.9,164.5 117.3,164.6 117.6,164.7 118.0,164.8 118.4,164.9 118.7,164.9 119.1,165.0 119.5,165.1 119.9,165.2 120.2,165.2 120.6,165.3 121.0,165.4 121.4,165.4 121.7,165.5 122.1,165.6 122.5,165.6 122.9,165.7 123.2,165.8 123.6,165.8 124.0,165.9 124.3,166.0 124.7,166.1 125.0,166.1 125.4,166.2 125.8,166.3 126.1,166.3 126.5,166.4 126.8,166.5 127.2,166.5 127.6,166.6 127.9,166.6 128.3,166.7 128.6,166.7 129.0,166.8 129.4,166.8 129.7,166.8 130.1,166.9 130.5,166.9 130.8,166.9 131.2,167.0 131.6,167.0 131.9,167.0 132.3,167.1 132.7,167.1 133.0,167.1 133.4,167.1 133.8,167.1 134.1,167.2 134.5,167.2 134.9,167.2 135.2,167.2 135.6,167.2 136.0,167.2 136.3,167.2 136.7,167.2 137.1,167.3 137.4,167.3 137.8,167.3 138.2,167.3 138.5,167.3 138.9,167.3 139.3,167.3 139.6,167.3 140.0,167.3 140.4,167.3 140.7,167.3 141.1,167.3 141.5,167.3 141.8,167.3 142.2,167.3 142.6,167.3 142.9,167.3 143.3,167.3 143.7,167.3 144.0,167.3 144.4,167.3 144.8,167.3 145.1,167.3 145.5,167.3 145.9,167.3 146.2,167.3 146.6,167.3 147.0,167.3 147.3,167.3 147.7,167.3 148.1,167.2 148.4,167.2 148.8,167.2 149.2,167.2 149.5,167.2 149.9,167.2 150.3,167.1 150.6,167.1 151.0,167.1 151.4,167.1 151.7,167.1 152.1,167.0 152.4,167.0 152.8,167.0 153.2,167.0 153.5,166.9 153.9,166.9 154.2,166.9 154.6,166.9 155.0,166.8 155.3,166.8 155.7,166.8 156.0,166.7 156.4,166.7 156.8,166.7 157.1,166.6 157.5,166.6 157.9,166.6 158.3,166.5 158.6,166.5 159.0,166.4 159.4,166.4 159.8,166.4 160.1,166.3 160.5,166.3 160.9,166.2 161.3,166.2 161.6,166.2 162.0,166.1 162.4,166.1 162.7,166.0 163.1,166.0 163.4,166.0 163.8,165.9 164.1,165.9 164.5,165.8 164.8,165.8 165.2,165.8 165.5,165.7 165.9,165.7 166.2,165.6 166.6,165.6 166.9,165.6 167.3,165.5 167.7,165.5 168.0,165.4 168.4,165.4 168.7,165.4 169.1,165.3 169.5,165.3 169.8,165.2 170.2,165.2 170.5,165.2 170.9,165.1 171.3,165.1 171.6,165.0 172.0,165.0 172.3,165.0 172.7,164.9 173.1,164.9 173.4,164.8 173.8,164.8 174.2,164.8 174.5,164.7 174.9,164.7 175.3,164.6 175.6,164.6 176.0,164.5 176.4,164.5 176.7,164.4 177.1,164.4 177.5,164.4 177.8,164.3 178.2,164.3 178.6,164.2 178.9,164.2 179.3,164.1 179.6,164.1 180.0,164.0 180.4,164.0 180.7,163.9 181.1,163.9 181.4,163.8 181.8,163.8 182.2,163.7 182.5,163.7 182.9,163.6 183.2,163.6 183.6,163.5 184.0,163.5 184.3,163.4 184.7,163.4 185.1,163.3 185.4,163.3 185.8,163.2 186.2,163.2 186.5,163.1 186.9,163.1 187.3,163.0 187.6,163.0 188.0,162.9 188.4,162.9 188.7,162.8 189.1,162.8 189.5,162.8 189.9,162.8 190.3,162.7 190.7,162.7 191.1,162.7 191.5,162.7 191.9,162.7 192.2,162.7 192.6,162.7 193.0,162.7 193.4,162.9 193.9,163.4 194.3,163.9 194.7,164.7 195.1,165.7 195.5,166.7 195.9,167.6 196.3,168.4 196.6,169.1 197.0,169.5 197.4,169.7 197.9,169.9 198.3,170.1 198.7,170.4 199.2,170.9 199.6,171.4 200.0,172.0 200.4,172.8 200.8,173.9 201.2,175.1 201.6,176.9 201.9,179.3 202.3,181.9 202.7,184.6 203.0,187.6 203.4,190.4 203.8,193.7 204.3,196.7 204.7,199.0 205.1,200.6 205.5,201.9 205.9,202.4 206.3,202.3 206.7,201.9 207.0,201.4 207.4,200.9 207.8,200.4 208.3,199.9 208.7,199.1 209.1,197.6 209.6,195.4 210.1,191.9 210.6,188.1 211.1,185.2 211.6,183.3 212.0,182.5 212.4,182.0 212.8,181.5 213.2,181.2 213.6,180.8 214.0,180.5 214.4,180.3 214.8,180.1 215.1,179.9 215.5,179.7 215.9,179.4 216.3,179.0 216.7,178.4 217.2,177.6 217.6,176.7 218.0,175.7 218.5,174.6 218.9,173.7 219.3,172.9 219.7,172.3 220.1,171.6 220.5,171.1 220.9,170.6 221.3,170.1 221.7,169.6 222.1,169.2 222.5,168.9 222.9,168.8 223.3,168.9 223.7,169.0 224.1,169.2 224.5,169.4 224.9,169.5 225.3,169.2 225.8,168.7 226.2,168.3 226.6,168.0 227.0,167.7 227.4,167.4 227.8,167.2 228.2,167.1 228.6,167.0 229.0,166.9 229.4,166.9 229.7,166.8 230.1,166.8 230.5,166.8 230.9,166.7 231.4,167.3 231.8,167.8 232.2,167.6 232.6,167.0 232.9,166.4 233.3,165.8 233.7,165.4 234.0,165.3 234.4,165.1 234.8,165.0 235.1,164.9 235.4,164.8 235.8,164.7 236.2,164.6 236.5,164.6 236.8,164.5 237.2,164.4 237.5,164.4 237.9,164.3 238.2,164.2 238.6,164.2 238.9,164.1 239.3,164.1 239.7,164.1 240.0,164.0 240.4,163.9 240.7,163.9 241.1,163.8 241.4,163.8 241.8,163.8 242.1,163.7 242.5,163.7 242.8,163.6 243.2,163.6 243.6,163.5 243.9,163.5 244.3,163.5 244.6,163.4 245.0,163.4 245.3,163.4 245.7,163.3 246.0,163.3 246.4,163.3 246.8,163.2 247.1,163.2 247.5,163.2 247.8,163.1 248.2,163.1 248.5,163.1 248.9,163.1 249.2,163.0 249.6,163.0 249.9,163.0 250.3,163.0 250.7,162.9 251.0,162.9 251.3,162.9 251.7,162.9 252.0,162.8 252.4,162.8 252.8,162.8 253.1,162.8 253.4,162.7 253.8,162.7 254.2,162.7 254.5,162.7 254.8,162.7 255.2,162.6 255.5,162.6 255.9,162.6 256.2,162.6 256.6,162.6 256.9,162.5 257.3,162.5 257.6,162.5 258.0,162.5 258.4,162.5 258.7,162.5 259.1,162.4 259.4,162.4 259.8,162.4 260.1,162.4 260.4,162.4 260.8,162.4 261.1,162.3 261.5,162.3 261.9,162.3 262.2,162.3 262.6,162.3 262.9,162.3 263.2,162.3 263.6,162.2 263.9,162.2 264.3,162.2 264.6,162.2 265.0,162.2 265.4,162.2 265.7,162.2 266.1,162.2 266.4,162.2 266.8,162.1 267.1,162.1 267.5,162.1 267.8,162.1 268.2,162.1 268.5,162.1 268.9,162.1 269.2,162.1 269.6,162.1 269.9,162.0 270.3,162.0 270.6,162.0 271.0,162.0 271.3,162.0 271.7,162.0 272.0,162.0 272.4,162.0 272.7,162.0 273.1,162.0 273.5,162.0 273.8,161.9 274.2,161.9 274.5,161.9 274.9,161.9 275.2,161.9 275.6,161.9 275.9,161.9 276.3,161.9 276.6,161.9 277.0,161.9 277.3,161.9 277.7,161.9 278.0,161.8 278.4,161.8 278.7,161.8 279.1,161.8 279.4,161.8 279.8,161.8 280.1,161.8 280.5,161.8 280.8,161.8 281.2,161.8 281.5,161.8 281.9,161.8 282.3,161.8 282.6,161.8 283.0,161.7 283.3,161.7 283.7,161.7 284.0,161.7 284.4,161.7 284.7,161.7 285.1,161.7 285.4,161.7 285.8,161.7 286.1,161.7 286.5,161.7 286.8,161.7 287.2,161.7 287.5,161.7 287.9,161.6 288.2,161.6 288.6,161.6 288.9,161.6 289.3,161.6 289.6,161.6 290.0,161.6 290.4,161.6 290.7,161.6 291.1,161.6 291.4,161.6 291.8,161.6 292.1,161.6 292.5,161.5 292.8,161.5 293.2,161.5 293.5,161.5 293.9,161.5 294.2,161.5 294.6,161.5 294.9,161.5 295.3,161.5 295.6,161.5 296.0,161.5 296.3,161.5 296.7,161.5 297.0,161.5 297.4,161.5 297.7,161.4 298.1,161.4 298.4,161.4 298.8,161.4 299.1,161.4 299.5,161.4 299.8,161.4 300.2,161.4 300.5,161.4 300.9,161.4 301.2,161.4 301.6,161.4 301.9,161.4 302.3,161.4 302.6,161.4 303.0,161.4 303.3,161.3 303.7,161.3 304.0,161.3 304.4,161.3 304.7,161.3 305.1,161.3 305.4,161.3 305.8,161.3 306.1,161.3 306.5,161.3 306.9,161.3 307.2,161.3 307.6,161.3 307.9,161.3 308.3,161.3 308.6,161.3 309.0,161.3 309.3,161.2 309.7,161.2 310.0,161.2 310.4,161.2 310.7,161.2 311.1,161.2 311.4,161.2 311.8,161.2 312.1,161.2 312.5,161.2 312.8,161.2 313.2,161.2 313.5,161.2 313.9,161.2 314.2,161.2 314.6,161.2 314.9,161.1 315.3,161.1 315.6,161.1 316.0,161.1 316.3,161.1 316.7,161.1 317.0,161.1 317.4,161.1 317.7,161.1 318.1,161.1 318.4,161.1 318.8,161.1 319.1,161.1 319.5,161.1 319.8,161.1 320.2,161.1 320.5,161.0 320.9,161.0 321.2,161.0 321.6,161.0 321.9,161.0 322.3,161.0 322.6,161.0 323.0,161.0 323.4,161.0 323.7,161.0 324.1,161.0 324.4,161.0 324.8,161.0 325.1,161.0 325.5,160.9 325.8,160.9 326.2,160.9 326.5,160.9 326.9,160.9 327.2,160.9 327.6,160.9 327.9,160.9 328.3,160.9 328.6,160.9 329.0,160.9 329.3,160.9 329.7,160.8 330.0,160.8 330.4,160.8 330.7,160.8 331.1,160.8 331.4,160.8 331.8,160.8 332.1,160.8 332.5,160.8 332.9,160.8 333.2,160.8 333.6,160.7 333.9,160.7 334.3,160.7 334.6,160.7 335.0,160.7 335.3,160.7 335.7,160.7 336.0,160.7 336.4,160.7 336.7,160.7 337.1,160.6 337.4,160.6 337.8,160.6 338.1,160.6 338.5,160.6 338.8,160.6 339.2,160.6 339.5,160.6 339.9,160.6 340.2,160.6 340.6,160.5 340.9,160.5 341.3,160.5 341.6,160.5 342.0,160.5 342.4,160.5 342.7,160.5 343.1,160.5 343.4,160.5 343.8,160.5 344.1,160.5 344.5,160.4 344.8,160.4 345.2,160.4 345.5,160.4 345.9,160.4 346.2,160.4 346.6,160.4 346.9,160.4 347.3,160.4 347.6,160.4 348.0,160.4 348.3,160.4 348.7,160.3 349.0,160.3 349.4,160.3 349.7,160.3 350.1,160.3 350.4,160.3 350.8,160.3 351.1,160.3 351.5,160.3 351.9,160.3 352.2,160.3 352.6,160.3 352.9,160.3 353.3,160.3 353.6,160.3 354.0,160.3 354.3,160.2 354.7,160.2 355.0,160.2 355.4,160.2 355.7,160.2 356.1,160.2 356.4,160.2 356.8,160.2 357.1,160.2 357.5,160.2 357.8,160.2 358.2,160.2 358.5,160.2 358.9,160.2 359.2,160.2 359.6,160.2 359.9,160.2 360.3,160.2 360.6,160.2 361.0,160.2 361.4,160.2 361.7,160.2 362.1,160.2 362.4,160.3 362.8,160.3 363.1,160.4 363.5,160.4 363.9,160.5 364.2,160.6 364.6,160.6 364.9,160.7 365.3,160.8 365.6,160.9 366.0,161.0 366.4,161.1 366.7,161.3 367.1,161.5 367.4,161.7 367.8,162.0 368.1,162.3 368.5,162.7 368.8,163.0 369.2,163.4 369.5,163.8 369.9,164.2 370.2,164.6 370.6,165.1 370.9,165.5 371.3,165.9 371.6,166.3 372.0,166.7 372.3,167.1 372.7,167.5 373.1,167.9 373.4,168.3 373.8,168.8 374.1,169.3 374.5,169.9 374.9,170.4 375.2,170.9 375.6,171.4 376.0,171.9 376.3,172.4 376.7,172.8 377.1,173.2 377.4,173.5 377.8,173.7 378.1,173.9 378.5,173.9 378.9,173.8 379.2,173.3 379.6,172.7 380.0,171.9 380.3,170.9 380.7,169.9 381.1,168.9 381.4,167.8 381.8,166.8 382.2,165.9 382.5,165.1 382.9,164.5 383.3,164.0 383.6,163.6 384.0,163.1 384.4,162.7 384.7,162.3 385.1,161.9 385.4,161.6 385.8,161.3 386.2,161.0 386.5,160.8 386.9,160.7 387.3,160.6 387.6,160.5 388.0,160.4 388.3,160.3 388.7,160.2 389.0,160.2 389.4,160.1 389.7,160.1 390.1,160.0 390.4,160.0 390.8,160.0 391.2,160.1 391.6,160.3 391.9,160.7 392.3,161.2 392.7,161.9 393.1,162.7 393.4,163.6 393.8,164.6 394.2,167.0 394.6,171.4 395.0,176.5 395.4,181.5 395.8,186.7 396.1,189.9 396.5,187.9 396.8,183.8 397.2,180.0 397.6,176.8 398.0,173.5 398.4,170.5 398.8,168.4 399.2,167.6 399.6,167.6 399.9,167.6 400.3,167.6 400.7,167.6 401.1,167.8 401.5,168.4 401.9,168.9 402.3,169.2 402.7,168.7 403.1,167.5 403.4,166.2 403.8,165.3 404.2,164.8 404.6,164.3 405.0,163.9 405.4,163.5 405.7,163.2 406.1,162.9 406.5,162.8 406.9,162.7 407.3,162.8 407.7,163.0 408.0,163.5 408.4,164.1 408.8,165.0 409.2,166.1 409.6,174.1 410.0,181.5 410.7,172.3 411.1,173.2 411.5,175.3 411.9,184.4 412.2,198.9 412.6,206.5 413.0,202.5 413.4,193.4 413.7,183.5 414.1,176.9 414.5,173.4 414.9,170.3 415.3,167.9 415.7,166.1 416.1,165.3 416.5,165.0 416.9,164.8 417.2,164.7 417.6,164.6 418.0,165.1 418.4,166.4 418.8,168.4 419.2,170.7 419.6,174.9 419.9,181.7 420.3,189.1 420.6,195.1 421.0,197.5 421.4,193.9 421.8,186.4 422.2,180.0 422.6,175.6 423.0,171.3 423.4,168.1 423.8,166.9 424.2,166.9 424.5,166.9 424.9,166.9 425.2,168.7 425.6,172.3 426.0,179.0 426.4,183.8 426.8,181.9 427.1,177.5 427.5,172.6 427.9,169.2 428.2,167.4 428.6,165.8 428.9,164.2 429.3,162.9 429.6,161.7 430.0,160.9 430.3,160.3 430.7,160.0 431.1,159.9 431.5,159.8 431.9,159.8 432.2,159.7 432.6,159.7 433.0,159.7 433.4,159.8 433.8,160.2 434.1,160.7 434.5,161.3 434.9,162.1 435.3,163.0 435.7,164.2 436.0,166.0 436.4,168.3 436.7,170.9 437.1,173.8 437.5,179.2 438.0,186.7 438.4,193.2 438.8,196.0 439.2,193.3 439.5,188.0 439.9,184.5 440.3,183.4 440.7,183.0 441.4,190.7 441.8,195.1 442.3,199.5 442.7,205.0 443.1,214.1 443.6,225.5 444.0,235.0 444.4,242.1 444.9,248.8 445.3,253.8 445.7,255.8 446.1,254.8 446.5,252.0 446.9,248.0 447.2,243.2 447.6,238.0 448.0,233.1 448.4,228.8 448.8,225.7 449.2,223.3 449.5,221.2 449.9,220.3 450.3,226.9 450.7,233.4 451.1,231.5 451.4,227.0 451.8,221.9 452.2,218.0 452.6,215.5 453.0,213.2 453.4,211.2 453.8,209.4 454.1,207.7 454.5,206.0 454.9,204.4 455.3,202.7 455.7,201.2 456.1,199.7 456.4,198.2 456.8,196.5 457.2,194.3 457.5,191.4 457.9,188.2 458.2,184.9 458.6,181.7 458.9,178.9 459.2,176.7 459.6,175.5 460.0,174.8 460.4,174.1 460.7,173.6 461.1,173.3 461.5,173.2 461.9,174.6 462.3,178.3 462.7,183.3 463.1,192.7 463.5,205.0 464.0,219.7 464.5,217.8 465.0,214.0 465.4,210.3 465.8,205.5 466.2,200.1 466.6,194.8 467.0,190.0 467.4,186.4 467.8,183.7 468.2,181.2 468.6,178.8 468.9,176.6 469.3,174.7 469.7,173.1 470.1,171.8 470.5,170.9 470.9,170.2 471.2,169.6 471.6,169.1 472.0,168.6 472.4,168.2 472.8,167.9 473.1,167.7 473.5,167.5 473.9,167.4 474.3,167.2 474.7,167.1 475.1,167.1 475.5,167.0 475.9,167.0 476.3,167.2 476.6,167.7 477.0,168.4 477.4,169.4 477.8,171.4 478.2,175.0 478.6,180.1 479.0,186.4 479.5,206.7 480.0,222.8 480.4,216.8 480.8,203.2 481.2,188.8 481.6,180.2 482.0,177.4 482.4,175.3 482.7,173.7 483.1,172.5 483.5,171.5 483.9,170.5 484.3,169.7 484.7,169.1 485.1,168.5 485.5,167.9 485.9,167.5 486.3,167.1 486.6,166.8 487.0,166.4 487.3,166.1 487.7,165.7 488.0,165.4 488.4,165.2 488.7,165.0 489.1,164.8 489.4,164.7 489.8,164.7 490.2,164.7 490.6,164.8 490.9,164.8 491.3,164.9 491.7,165.0 492.1,165.1 492.5,165.2 492.8,165.3 493.2,165.4 493.6,165.5 494.0,165.6 494.3,165.8 494.7,165.9 495.0,166.1 495.4,166.3 495.7,166.5 496.1,166.6 496.4,166.8 496.8,166.9 497.1,167.0 497.5,167.0 497.9,166.9 498.3,166.6 498.7,166.2 499.1,165.7 499.4,165.2 499.8,164.8 500.2,164.5 500.6,164.4 501.0,164.4 501.3,164.5 501.7,164.6 502.0,164.7 502.4,164.8 502.8,165.0 503.1,165.1 503.5,165.3 503.8,165.5 504.2,165.7 504.6,165.9 504.9,166.1 505.3,166.3 505.6,166.5 506.0,166.6 506.4,166.7 506.7,166.9 507.1,167.0 507.4,167.1 507.8,167.3 508.1,167.4 508.5,167.5 508.8,167.7 509.2,167.8 509.5,167.9 509.9,168.0 510.2,168.2 510.6,168.3 511.0,168.4 511.3,168.6 511.7,168.8 512.0,168.9 512.4,169.1 512.7,169.3 513.1,169.4 513.4,169.5 513.8,169.6 514.1,169.7 514.5,169.7 514.9,169.7 515.2,169.6 515.6,169.6 515.9,169.5 516.3,169.4 516.6,169.4 517.0,169.3 517.3,169.2 517.7,169.2 518.0,169.1 518.4,169.1 518.8,169.2 519.1,169.4 519.5,169.8 519.8,170.3 520.2,170.9 520.6,174.1 521.1,179.1 521.5,181.7 522.0,177.6 522.5,173.2 522.9,172.8 523.4,172.6 523.8,172.5 524.2,174.0 524.6,175.5 525.0,174.6 525.4,173.0 525.8,172.1 526.2,172.1 526.6,172.2 526.9,172.2 527.3,172.3 527.7,172.3 528.1,172.4 528.4,172.4 528.8,172.5 529.2,172.5 529.6,172.4 530.0,172.3 530.4,172.0 530.7,171.7 531.1,171.3 531.5,170.9 531.9,170.4 532.3,169.8 532.6,169.1 533.0,168.3 533.4,167.6 533.8,167.0 534.2,166.5 534.6,166.1 535.0,165.7 535.3,165.2 535.7,164.8 536.1,164.4 536.5,163.9 536.9,163.4 537.3,162.9 537.7,162.4 538.1,161.8 538.6,161.1 539.0,160.5" stroke="#1463dc" /><path d="M56.0,209.7 56.4,209.7 56.7,209.7 57.0,209.7 57.4,209.7 57.8,209.7 58.1,209.7 58.5,209.7 58.8,209.7 59.1,209.7 59.5,209.7 59.9,209.7 60.2,209.7 60.5,209.7 60.9,209.7 61.2,209.7 61.6,209.7 62.0,209.7 62.3,209.7 62.6,209.7 63.0,209.7 63.4,209.7 63.7,209.7 64.0,209.7 64.4,209.7 64.8,209.7 65.1,209.7 65.5,209.7 65.8,209.7 66.2,209.7 66.5,209.7 66.8,209.7 67.2,209.7 67.5,209.7 67.9,209.7 68.2,209.7 68.6,209.7 69.0,209.7 69.3,209.7 69.7,209.7 70.0,209.7 70.4,209.7 70.7,209.7 71.1,209.7 71.4,209.7 71.8,209.7 72.1,209.7 72.5,209.7 72.9,209.7 73.2,209.7 73.6,209.7 73.9,209.7 74.3,209.7 74.6,209.7 75.0,209.7 75.4,209.7 75.7,209.7 76.1,209.7 76.4,209.7 76.8,209.7 77.1,209.7 77.5,209.7 77.9,209.7 78.2,209.7 78.6,209.7 78.9,209.7 79.3,209.7 79.6,209.7 80.0,209.7 80.4,209.7 80.7,209.7 81.1,209.7 81.4,209.7 81.8,209.7 82.1,209.7 82.5,209.7 82.8,209.7 83.2,209.7 83.5,209.7 83.9,209.7 84.2,209.7 84.6,209.7 84.9,209.7 85.3,209.8 85.6,209.8 86.0,209.8 86.4,209.8 86.7,209.8 87.1,209.8 87.4,209.8 87.8,209.8 88.1,209.8 88.5,209.8 88.8,209.8 89.2,209.8 89.5,209.9 89.9,209.9 90.2,209.9 90.6,209.9 90.9,209.9 91.3,209.9 91.6,209.9 92.0,209.9 92.4,209.9 92.7,209.9 93.1,209.9 93.5,209.9 93.8,210.0 94.2,210.0 94.5,210.0 94.9,210.0 95.3,210.0 95.6,210.0 96.0,210.0 96.4,210.0 96.7,210.0 97.1,210.0 97.4,210.1 97.8,210.1 98.2,210.1 98.5,210.1 98.9,210.1 99.3,210.1 99.6,210.1 100.0,210.2 100.3,210.2 100.7,210.2 101.1,210.2 101.4,210.2 101.8,210.3 102.2,210.3 102.5,210.3 102.9,210.4 103.3,210.4 103.7,210.5 104.0,210.6 104.4,210.7 104.8,210.7 105.1,210.8 105.5,210.9 105.9,211.0 106.3,211.1 106.6,211.2 107.0,211.3 107.4,211.3 107.7,211.4 108.1,211.5 108.4,211.6 108.8,211.7 109.1,211.8 109.5,211.9 109.8,211.9 110.2,212.0 110.6,212.1 110.9,212.2 111.3,212.3 111.6,212.4 112.0,212.5 112.3,212.6 112.7,212.7 113.1,212.8 113.4,212.9 113.8,213.0 114.1,213.1 114.5,213.2 114.8,213.3 115.2,213.4 115.5,213.5 115.9,213.6 116.2,213.7 116.6,213.7 116.9,213.8 117.3,213.9 117.6,214.0 118.0,214.1 118.4,214.2 118.7,214.3 119.1,214.4 119.5,214.4 119.9,214.5 120.2,214.6 120.6,214.7 121.0,214.7 121.4,214.8 121.7,214.9 122.1,215.0 122.5,215.0 122.9,215.1 123.2,215.2 123.6,215.2 124.0,215.3 124.3,215.4 124.7,215.5 125.0,215.5 125.4,215.6 125.8,215.7 126.1,215.8 126.5,215.8 126.8,215.9 127.2,216.0 127.6,216.0 127.9,216.1 128.3,216.1 128.6,216.2 129.0,216.2 129.4,216.3 129.7,216.3 130.1,216.3 130.5,216.4 130.8,216.4 131.2,216.4 131.6,216.5 131.9,216.5 132.3,216.5 132.7,216.6 133.0,216.6 133.4,216.6 133.8,216.6 134.1,216.6 134.5,216.7 134.9,216.7 135.2,216.7 135.6,216.7 136.0,216.7 136.3,216.7 136.7,216.7 137.1,216.8 137.4,216.8 137.8,216.8 138.2,216.8 138.5,216.8 138.9,216.8 139.3,216.8 139.6,216.8 140.0,216.8 140.4,216.8 140.7,216.8 141.1,216.8 141.5,216.8 141.8,216.8 142.2,216.8 142.6,216.8 142.9,216.8 143.3,216.8 143.7,216.8 144.0,216.8 144.4,216.8 144.8,216.8 145.1,216.8 145.5,216.8 145.9,216.8 146.2,216.8 146.6,216.8 147.0,216.8 147.3,216.8 147.7,216.8 148.1,216.7 148.4,216.7 148.8,216.7 149.2,216.7 149.5,216.7 149.9,216.6 150.3,216.6 150.6,216.6 151.0,216.6 151.4,216.6 151.7,216.5 152.1,216.5 152.4,216.5 152.8,216.5 153.2,216.4 153.5,216.4 153.9,216.4 154.2,216.4 154.6,216.3 155.0,216.3 155.3,216.3 155.7,216.2 156.0,216.2 156.4,216.2 156.8,216.1 157.1,216.1 157.5,216.0 157.9,216.0 158.3,216.0 158.6,215.9 159.0,215.9 159.4,215.8 159.8,215.8 160.1,215.7 160.5,215.7 160.9,215.7 161.3,215.6 161.6,215.6 162.0,215.5 162.4,215.5 162.7,215.4 163.1,215.4 163.4,215.4 163.8,215.3 164.1,215.3 164.5,215.2 164.8,215.2 165.2,215.1 165.5,215.1 165.9,215.1 166.2,215.0 166.6,215.0 166.9,214.9 167.3,214.9 167.7,214.8 168.0,214.8 168.4,214.8 168.7,214.7 169.1,214.7 169.5,214.6 169.8,214.6 170.2,214.5 170.5,214.5 170.9,214.5 171.3,214.4 171.6,214.4 172.0,214.3 172.3,214.3 172.7,214.2 173.1,214.2 173.4,214.2 173.8,214.1 174.2,214.1 174.5,214.0 174.9,214.0 175.3,213.9 175.6,213.9 176.0,213.8 176.4,213.8 176.7,213.7 177.1,213.7 177.5,213.6 177.8,213.6 178.2,213.5 178.6,213.5 178.9,213.4 179.3,213.4 179.6,213.3 180.0,213.3 180.4,213.2 180.7,213.2 181.1,213.1 181.4,213.1 181.8,213.0 182.2,213.0 182.5,212.9 182.9,212.9 183.2,212.8 183.6,212.8 184.0,212.7 184.3,212.6 184.7,212.6 185.1,212.5 185.4,212.5 185.8,212.4 186.2,212.3 186.5,212.3 186.9,212.2 187.3,212.2 187.6,212.1 188.0,212.1 188.4,212.0 188.7,212.0 189.1,212.0 189.5,211.9 189.9,211.9 190.3,211.9 190.7,211.9 191.1,211.8 191.5,211.8 191.9,211.8 192.2,211.9 192.6,211.9 193.0,212.0 193.4,212.2 193.9,212.7 194.3,213.2 194.7,213.9 195.1,214.9 195.5,215.9 195.9,216.8 196.3,217.5 196.6,218.1 197.0,218.6 197.4,218.8 197.9,218.9 198.3,219.1 198.7,219.5 199.2,219.9 199.6,220.4 200.0,221.0 200.4,221.8 200.8,222.8 201.2,224.0 201.6,225.7 201.9,228.0 202.3,230.5 202.7,233.1 203.0,236.0 203.4,238.7 203.8,241.8 204.3,244.7 204.7,246.9 205.1,248.5 205.5,249.7 205.9,250.2 206.3,250.1 206.7,249.7 207.0,249.2 207.4,248.8 207.8,248.3 208.3,247.8 208.7,247.1 209.1,245.7 209.6,243.6 210.1,240.2 210.6,236.6 211.1,233.8 211.6,232.0 212.0,231.3 212.4,230.7 212.8,230.3 213.2,230.0 213.6,229.7 214.0,229.4 214.4,229.2 214.8,229.0 215.1,228.8 215.5,228.6 215.9,228.3 216.3,228.0 216.7,227.4 217.2,226.6 217.6,225.8 218.0,224.8 218.5,223.8 218.9,222.9 219.3,222.2 219.7,221.6 220.1,221.0 220.5,220.4 220.9,220.0 221.3,219.5 221.7,219.1 222.1,218.7 222.5,218.4 222.9,218.3 223.3,218.4 223.7,218.5 224.1,218.7 224.5,218.9 224.9,219.0 225.3,218.8 225.8,218.3 226.2,217.9 226.6,217.6 227.0,217.3 227.4,217.1 227.8,216.9 228.2,216.7 228.6,216.7 229.0,216.6 229.4,216.6 229.7,216.5 230.1,216.5 230.5,216.5 230.9,216.5 231.4,217.0 231.8,217.5 232.2,217.3 232.6,216.8 232.9,216.2 233.3,215.6 233.7,215.3 234.0,215.1 234.4,215.0 234.8,214.9 235.1,214.8 235.4,214.7 235.8,214.7 236.2,214.6 236.5,214.5 236.8,214.5 237.2,214.4 237.5,214.4 237.9,214.3 238.2,214.3 238.6,214.2 238.9,214.2 239.3,214.1 239.7,214.1 240.0,214.0 240.4,213.9 240.7,213.9 241.1,213.8 241.4,213.7 241.8,213.7 242.1,213.6 242.5,213.6 242.8,213.5 243.2,213.4 243.6,213.4 243.9,213.3 244.3,213.2 244.6,213.2 245.0,213.1 245.3,213.1 245.7,213.0 246.0,212.9 246.4,212.9 246.8,212.8 247.1,212.8 247.5,212.7 247.8,212.7 248.2,212.6 248.5,212.6 248.9,212.6 249.2,212.5 249.6,212.5 249.9,212.5 250.3,212.4 250.7,212.4 251.0,212.4 251.3,212.4 251.7,212.3 252.0,212.3 252.4,212.3 252.8,212.2 253.1,212.2 253.4,212.2 253.8,212.2 254.2,212.1 254.5,212.1 254.8,212.1 255.2,212.1 255.5,212.1 255.9,212.0 256.2,212.0 256.6,212.0 256.9,212.0 257.3,211.9 257.6,211.9 258.0,211.9 258.4,211.9 258.7,211.9 259.1,211.9 259.4,211.8 259.8,211.8 260.1,211.8 260.4,211.8 260.8,211.8 261.1,211.8 261.5,211.7 261.9,211.7 262.2,211.7 262.6,211.7 262.9,211.7 263.2,211.7 263.6,211.7 263.9,211.6 264.3,211.6 264.6,211.6 265.0,211.6 265.4,211.6 265.7,211.6 266.1,211.6 266.4,211.6 266.8,211.5 267.1,211.5 267.5,211.5 267.8,211.5 268.2,211.5 268.5,211.5 268.9,211.5 269.2,211.5 269.6,211.5 269.9,211.4 270.3,211.4 270.6,211.4 271.0,211.4 271.3,211.4 271.7,211.4 272.0,211.4 272.4,211.4 272.7,211.4 273.1,211.4 273.5,211.3 273.8,211.3 274.2,211.3 274.5,211.3 274.9,211.3 275.2,211.3 275.6,211.3 275.9,211.3 276.3,211.3 276.6,211.3 277.0,211.3 277.3,211.3 277.7,211.2 278.0,211.2 278.4,211.2 278.7,211.2 279.1,211.2 279.4,211.2 279.8,211.2 280.1,211.2 280.5,211.2 280.8,211.2 281.2,211.2 281.5,211.2 281.9,211.2 282.3,211.1 282.6,211.1 283.0,211.1 283.3,211.1 283.7,211.1 284.0,211.1 284.4,211.1 284.7,211.1 285.1,211.1 285.4,211.1 285.8,211.1 286.1,211.1 286.5,211.1 286.8,211.1 287.2,211.1 287.5,211.0 287.9,211.0 288.2,211.0 288.6,211.0 288.9,211.0 289.3,211.0 289.6,211.0 290.0,211.0 290.4,211.0 290.7,211.0 291.1,211.0 291.4,211.0 291.8,211.0 292.1,211.0 292.5,211.0 292.8,211.0 293.2,210.9 293.5,210.9 293.9,210.9 294.2,210.9 294.6,210.9 294.9,210.9 295.3,210.9 295.6,210.9 296.0,210.9 296.3,210.9 296.7,210.9 297.0,210.9 297.4,210.9 297.7,210.9 298.1,210.9 298.4,210.9 298.8,210.9 299.1,210.9 299.5,210.8 299.8,210.8 300.2,210.8 300.5,210.8 300.9,210.8 301.2,210.8 301.6,210.8 301.9,210.8 302.3,210.8 302.6,210.8 303.0,210.8 303.3,210.8 303.7,210.8 304.0,210.8 304.4,210.8 304.7,210.8 305.1,210.8 305.4,210.8 305.8,210.8 306.1,210.8 306.5,210.8 306.9,210.8 307.2,210.7 307.6,210.7 307.9,210.7 308.3,210.7 308.6,210.7 309.0,210.7 309.3,210.7 309.7,210.7 310.0,210.7 310.4,210.7 310.7,210.7 311.1,210.7 311.4,210.7 311.8,210.7 312.1,210.7 312.5,210.7 312.8,210.7 313.2,210.7 313.5,210.7 313.9,210.7 314.2,210.7 314.6,210.6 314.9,210.6 315.3,210.6 315.6,210.6 316.0,210.6 316.3,210.6 316.7,210.6 317.0,210.6 317.4,210.6 317.7,210.6 318.1,210.6 318.4,210.6 318.8,210.6 319.1,210.6 319.5,210.6 319.8,210.6 320.2,210.6 320.5,210.5 320.9,210.5 321.2,210.5 321.6,210.5 321.9,210.5 322.3,210.5 322.6,210.5 323.0,210.5 323.4,210.5 323.7,210.5 324.1,210.5 324.4,210.5 324.8,210.5 325.1,210.5 325.5,210.4 325.8,210.4 326.2,210.4 326.5,210.4 326.9,210.4 327.2,210.4 327.6,210.4 327.9,210.4 328.3,210.4 328.6,210.3 329.0,210.3 329.3,210.3 329.7,210.3 330.0,210.3 330.4,210.3 330.7,210.3 331.1,210.3 331.4,210.2 331.8,210.2 332.1,210.2 332.5,210.2 332.9,210.2 333.2,210.2 333.6,210.2 333.9,210.1 334.3,210.1 334.6,210.1 335.0,210.1 335.3,210.1 335.7,210.1 336.0,210.1 336.4,210.0 336.7,210.0 337.1,210.0 337.4,210.0 337.8,210.0 338.1,210.0 338.5,210.0 338.8,209.9 339.2,209.9 339.5,209.9 339.9,209.9 340.2,209.9 340.6,209.9 340.9,209.8 341.3,209.8 341.6,209.8 342.0,209.8 342.4,209.8 342.7,209.8 343.1,209.8 343.4,209.7 343.8,209.7 344.1,209.7 344.5,209.7 344.8,209.7 345.2,209.7 345.5,209.7 345.9,209.6 346.2,209.6 346.6,209.6 346.9,209.6 347.3,209.6 347.6,209.6 348.0,209.6 348.3,209.6 348.7,209.5 349.0,209.5 349.4,209.5 349.7,209.5 350.1,209.5 350.4,209.5 350.8,209.5 351.1,209.5 351.5,209.5 351.9,209.4 352.2,209.4 352.6,209.4 352.9,209.4 353.3,209.4 353.6,209.4 354.0,209.4 354.3,209.4 354.7,209.4 355.0,209.4 355.4,209.4 355.7,209.4 356.1,209.3 356.4,209.3 356.8,209.3 357.1,209.3 357.5,209.3 357.8,209.3 358.2,209.3 358.5,209.3 358.9,209.3 359.2,209.3 359.6,209.3 359.9,209.3 360.3,209.3 360.6,209.3 361.0,209.3 361.4,209.3 361.7,209.3 362.1,209.3 362.4,209.4 362.8,209.4 363.1,209.5 363.5,209.5 363.9,209.6 364.2,209.6 364.6,209.7 364.9,209.8 365.3,209.8 365.6,209.9 366.0,210.0 366.4,210.1 366.7,210.2 367.1,210.4 367.4,210.6 367.8,210.9 368.1,211.1 368.5,211.4 368.8,211.7 369.2,212.1 369.5,212.4 369.9,212.8 370.2,213.2 370.6,213.6 370.9,214.0 371.3,214.4 371.6,214.8 372.0,215.2 372.3,215.6 372.7,216.0 373.1,216.5 373.4,217.0 373.8,217.6 374.1,218.3 374.5,219.0 374.9,219.7 375.2,220.4 375.6,221.2 376.0,221.9 376.3,222.5 376.7,223.1 377.1,223.6 377.4,224.1 377.8,224.4 378.1,224.6 378.5,224.7 378.9,224.5 379.2,224.1 379.6,223.4 380.0,222.5 380.3,221.5 380.7,220.4 381.1,219.2 381.4,218.1 381.8,217.0 382.2,216.0 382.5,215.1 382.9,214.5 383.3,214.0 383.6,213.5 384.0,213.0 384.4,212.6 384.7,212.1 385.1,211.7 385.4,211.4 385.8,211.0 386.2,210.8 386.5,210.6 386.9,210.4 387.3,210.3 387.6,210.2 388.0,210.1 388.3,210.0 388.7,209.9 389.0,209.8 389.4,209.7 389.7,209.7 390.1,209.6 390.4,209.6 390.8,209.6 391.2,209.7 391.6,210.0 391.9,210.4 392.3,211.0 392.7,211.8 393.1,212.7 393.4,213.8 393.8,215.0 394.2,218.8 394.7,225.0 395.1,230.3 395.6,234.4 396.0,236.5 396.4,234.6 396.8,230.7 397.2,227.3 397.6,224.8 398.0,222.4 398.4,220.2 398.8,218.7 399.2,218.0 399.6,217.9 399.9,217.8 400.3,217.7 400.7,217.7 401.1,217.9 401.5,218.5 401.9,219.1 402.3,219.3 402.7,218.7 403.1,217.4 403.4,216.0 403.8,215.0 404.2,214.4 404.6,213.9 405.0,213.5 405.4,213.0 405.7,212.7 406.1,212.4 406.5,212.3 406.9,212.2 407.3,212.3 407.7,212.5 408.0,212.9 408.4,213.4 408.8,214.1 409.2,215.0 409.6,219.2 409.9,226.0 410.3,229.6 411.0,220.3 411.4,221.7 411.8,225.0 412.2,239.6 412.7,252.0 413.1,248.6 413.4,241.0 413.8,232.7 414.1,227.3 414.5,224.5 414.9,222.1 415.3,220.2 415.7,218.8 416.1,218.0 416.5,217.5 416.8,217.1 417.2,216.8 417.5,216.6 417.9,216.5 418.3,217.3 418.8,219.3 419.2,221.9 419.6,225.6 419.9,231.3 420.3,237.4 420.6,242.2 421.0,244.2 421.4,241.9 421.8,236.5 422.1,230.3 422.5,225.7 422.9,222.3 423.3,219.0 423.7,216.6 424.1,215.7 424.6,215.9 425.0,216.5 425.4,218.7 425.8,222.6 426.5,234.2 427.0,231.0 427.4,224.5 427.9,219.6 428.2,217.8 428.6,216.2 428.9,214.7 429.3,213.4 429.6,212.3 430.0,211.4 430.3,210.8 430.7,210.4 431.1,210.2 431.5,210.0 431.9,209.8 432.2,209.7 432.6,209.6 433.0,209.6 433.4,209.7 433.8,210.1 434.1,210.7 434.5,211.5 434.9,212.4 435.3,213.4 435.7,214.8 436.0,216.9 436.4,219.6 436.7,222.6 437.1,225.7 437.5,230.9 438.0,237.5 438.4,243.3 438.8,245.7 439.2,242.9 439.5,237.3 439.9,233.4 440.3,231.8 440.7,231.1 441.4,239.5 441.8,243.4 442.2,246.7 442.6,250.4 443.0,255.0 443.5,264.4 444.0,275.0 444.4,284.1 444.9,292.7 445.3,296.5 445.7,296.1 446.1,295.1 446.5,293.6 446.9,291.6 447.2,289.3 447.6,286.9 448.0,284.4 448.4,281.9 448.8,278.7 449.1,274.6 449.5,271.1 449.9,269.6 450.3,275.8 450.7,281.9 451.1,280.7 451.4,277.8 451.8,274.3 452.2,271.1 452.6,268.4 453.0,265.7 453.4,263.1 453.7,260.5 454.1,258.1 454.5,255.8 454.9,253.8 455.2,251.9 455.6,250.1 456.0,248.1 456.4,246.0 456.7,243.6 457.1,241.0 457.4,238.4 457.8,235.8 458.2,233.3 458.5,231.0 458.9,228.9 459.2,227.2 459.6,225.9 460.0,224.8 460.4,223.7 460.7,222.8 461.1,222.2 461.5,222.0 461.9,223.5 462.3,227.2 462.7,232.1 463.1,239.8 463.5,250.0 464.0,264.3 464.5,262.0 465.0,258.0 465.4,254.9 465.8,251.5 466.2,247.9 466.6,244.3 467.0,241.1 467.4,238.3 467.8,236.0 468.2,233.7 468.6,231.6 468.9,229.6 469.3,227.8 469.7,226.1 470.1,224.7 470.5,223.6 470.9,222.6 471.2,221.7 471.6,220.8 472.0,220.0 472.4,219.3 472.8,218.8 473.1,218.4 473.5,218.2 473.9,218.1 474.3,218.0 474.7,218.0 475.1,217.9 475.5,217.9 475.9,217.9 476.3,218.2 476.6,218.9 477.0,220.0 477.4,221.3 477.8,223.6 478.2,227.3 478.6,232.3 479.0,238.3 479.5,255.3 480.0,268.2 480.4,262.9 480.8,251.0 481.2,238.3 481.6,230.5 482.0,227.5 482.4,225.0 482.8,223.1 483.2,221.7 483.6,220.5 484.0,219.6 484.4,218.7 484.8,218.0 485.1,217.4 485.5,217.0 485.9,216.6 486.3,216.3 486.6,216.1 487.0,215.8 487.3,215.6 487.7,215.4 488.0,215.2 488.4,215.1 488.7,215.0 489.1,214.9 489.4,214.8 489.8,214.8 490.2,214.8 490.6,214.9 490.9,214.9 491.3,215.1 491.7,215.2 492.1,215.3 492.5,215.5 492.8,215.6 493.2,215.8 493.6,215.9 494.0,216.1 494.3,216.2 494.7,216.5 495.0,216.7 495.4,217.0 495.7,217.2 496.1,217.4 496.4,217.6 496.8,217.8 497.1,217.9 497.5,217.9 497.9,217.8 498.3,217.4 498.7,216.9 499.1,216.4 499.4,215.8 499.8,215.3 500.2,214.9 500.6,214.8 501.0,214.8 501.3,214.9 501.7,214.9 502.0,215.0 502.4,215.1 502.8,215.2 503.1,215.4 503.5,215.5 503.8,215.7 504.2,215.8 504.6,216.0 504.9,216.2 505.3,216.3 505.6,216.5 506.0,216.6 506.4,216.7 506.7,216.9 507.1,217.0 507.4,217.2 507.8,217.3 508.1,217.5 508.5,217.6 508.8,217.8 509.2,217.9 509.5,218.1 509.9,218.2 510.2,218.4 510.6,218.5 511.0,218.7 511.3,218.8 511.7,219.0 512.0,219.2 512.4,219.4 512.7,219.5 513.1,219.7 513.4,219.8 513.8,219.9 514.1,220.0 514.5,220.0 514.9,220.0 515.2,219.8 515.6,219.6 515.9,219.4 516.3,219.1 516.6,218.8 517.0,218.5 517.3,218.3 517.7,218.1 518.0,217.9 518.4,217.9 518.8,218.0 519.1,218.2 519.5,218.6 519.8,219.1 520.2,219.7 520.6,222.9 521.1,227.9 521.5,230.5 522.0,226.9 522.5,222.8 522.9,222.0 523.4,221.5 523.8,221.3 524.2,222.9 524.6,224.4 525.0,223.4 525.4,221.5 525.8,220.5 526.2,220.5 526.6,220.5 526.9,220.5 527.3,220.5 527.7,220.5 528.1,220.5 528.4,220.5 528.8,220.5 529.2,220.5 529.6,220.4 530.0,220.0 530.4,219.5 530.8,218.9 531.1,218.3 531.5,217.6 531.9,217.0 532.3,216.6 532.7,216.3 533.1,216.0 533.5,215.7 533.8,215.5 534.2,215.2 534.6,215.0 535.0,214.7 535.4,214.3 535.8,213.8 536.2,213.3 536.6,212.6 537.0,211.9 537.3,211.1 537.7,210.4 538.1,209.6 538.5,208.9 539.0,208.0" stroke="#ea2a2a" /><path d="M56.0,252.7 56.4,252.7 56.7,252.7 57.0,252.7 57.4,252.7 57.8,252.7 58.1,252.7 58.5,252.7 58.8,252.7 59.1,252.7 59.5,252.7 59.9,252.7 60.2,252.7 60.5,252.7 60.9,252.7 61.2,252.7 61.6,252.7 62.0,252.7 62.3,252.7 62.6,252.7 63.0,252.7 63.4,252.7 63.7,252.7 64.0,252.7 64.4,252.7 64.8,252.7 65.1,252.7 65.5,252.7 65.8,252.7 66.2,252.7 66.5,252.7 66.8,252.7 67.2,252.7 67.5,252.7 67.9,252.7 68.2,252.7 68.6,252.7 69.0,252.7 69.3,252.7 69.7,252.7 70.0,252.7 70.4,252.7 70.7,252.7 71.1,252.7 71.4,252.7 71.8,252.7 72.1,252.7 72.5,252.7 72.9,252.7 73.2,252.7 73.6,252.7 73.9,252.7 74.3,252.7 74.6,252.7 75.0,252.7 75.4,252.7 75.7,252.7 76.1,252.7 76.4,252.7 76.8,252.7 77.1,252.7 77.5,252.7 77.9,252.7 78.2,252.7 78.6,252.7 78.9,252.7 79.3,252.7 79.6,252.7 80.0,252.7 80.4,252.7 80.7,252.7 81.1,252.7 81.4,252.7 81.8,252.7 82.1,252.7 82.5,252.7 82.8,252.7 83.2,252.7 83.5,252.7 83.9,252.7 84.2,252.7 84.6,252.7 84.9,252.8 85.3,252.8 85.6,252.8 86.0,252.8 86.4,252.8 86.7,252.8 87.1,252.8 87.4,252.8 87.8,252.8 88.1,252.8 88.5,252.8 88.8,252.8 89.2,252.8 89.5,252.9 89.9,252.9 90.2,252.9 90.6,252.9 90.9,252.9 91.3,252.9 91.6,252.9 92.0,252.9 92.4,252.9 92.7,252.9 93.1,252.9 93.5,253.0 93.8,253.0 94.2,253.0 94.5,253.0 94.9,253.0 95.3,253.0 95.6,253.0 96.0,253.0 96.4,253.0 96.7,253.0 97.1,253.1 97.4,253.1 97.8,253.1 98.2,253.1 98.5,253.1 98.9,253.1 99.3,253.1 99.6,253.2 100.0,253.2 100.3,253.2 100.7,253.2 101.1,253.2 101.4,253.3 101.8,253.3 102.2,253.3 102.5,253.3 102.9,253.4 103.3,253.5 103.7,253.5 104.0,253.6 104.4,253.7 104.8,253.8 105.1,253.9 105.5,253.9 105.9,254.0 106.3,254.1 106.6,254.2 107.0,254.3 107.4,254.4 107.7,254.4 108.1,254.5 108.4,254.6 108.8,254.7 109.1,254.8 109.5,254.9 109.8,255.0 110.2,255.1 110.6,255.2 110.9,255.3 111.3,255.3 111.6,255.4 112.0,255.5 112.3,255.6 112.7,255.7 113.1,255.8 113.4,255.9 113.8,256.0 114.1,256.1 114.5,256.2 114.8,256.3 115.2,256.4 115.5,256.5 115.9,256.6 116.2,256.7 116.6,256.8 116.9,256.9 117.3,257.0 117.6,257.1 118.0,257.2 118.4,257.3 118.7,257.3 119.1,257.4 119.5,257.5 119.9,257.6 120.2,257.7 120.6,257.7 121.0,257.8 121.4,257.9 121.7,258.0 122.1,258.0 122.5,258.1 122.9,258.2 123.2,258.2 123.6,258.3 124.0,258.4 124.3,258.5 124.7,258.5 125.0,258.6 125.4,258.7 125.8,258.8 126.1,258.8 126.5,258.9 126.8,259.0 127.2,259.1 127.6,259.1 127.9,259.2 128.3,259.2 128.6,259.3 129.0,259.3 129.4,259.4 129.7,259.4 130.1,259.4 130.5,259.5 130.8,259.5 131.2,259.5 131.6,259.6 131.9,259.6 132.3,259.6 132.7,259.7 133.0,259.7 133.4,259.7 133.8,259.7 134.1,259.7 134.5,259.8 134.9,259.8 135.2,259.8 135.6,259.8 136.0,259.8 136.3,259.8 136.7,259.8 137.1,259.8 137.4,259.9 137.8,259.9 138.2,259.9 138.5,259.9 138.9,259.9 139.3,259.9 139.6,259.9 140.0,259.9 140.4,259.9 140.7,259.9 141.1,259.9 141.5,259.9 141.8,259.9 142.2,259.9 142.6,259.9 142.9,259.9 143.3,259.9 143.7,259.9 144.0,259.9 144.4,259.9 144.8,259.9 145.1,259.9 145.5,259.9 145.9,259.9 146.2,259.9 146.6,259.9 147.0,259.9 147.3,259.9 147.7,259.9 148.1,259.8 148.4,259.8 148.8,259.8 149.2,259.8 149.5,259.8 149.9,259.7 150.3,259.7 150.6,259.7 151.0,259.7 151.4,259.7 151.7,259.6 152.1,259.6 152.4,259.6 152.8,259.6 153.2,259.5 153.5,259.5 153.9,259.5 154.2,259.5 154.6,259.4 155.0,259.4 155.3,259.4 155.7,259.3 156.0,259.3 156.4,259.3 156.8,259.2 157.1,259.2 157.5,259.1 157.9,259.1 158.3,259.1 158.6,259.0 159.0,259.0 159.4,258.9 159.8,258.9 160.1,258.8 160.5,258.8 160.9,258.7 161.3,258.7 161.6,258.6 162.0,258.6 162.4,258.6 162.7,258.5 163.1,258.5 163.4,258.4 163.8,258.4 164.1,258.3 164.5,258.3 164.8,258.3 165.2,258.2 165.5,258.2 165.9,258.1 166.2,258.1 166.6,258.0 166.9,258.0 167.3,258.0 167.7,257.9 168.0,257.9 168.4,257.8 168.7,257.8 169.1,257.7 169.5,257.7 169.8,257.7 170.2,257.6 170.5,257.6 170.9,257.5 171.3,257.5 171.6,257.4 172.0,257.4 172.3,257.4 172.7,257.3 173.1,257.3 173.4,257.2 173.8,257.2 174.2,257.1 174.5,257.1 174.9,257.0 175.3,257.0 175.6,256.9 176.0,256.9 176.4,256.8 176.7,256.8 177.1,256.7 177.5,256.7 177.8,256.6 178.2,256.6 178.6,256.5 178.9,256.5 179.3,256.4 179.6,256.4 180.0,256.3 180.4,256.3 180.7,256.2 181.1,256.2 181.4,256.1 181.8,256.1 182.2,256.0 182.5,256.0 182.9,255.9 183.2,255.8 183.6,255.8 184.0,255.7 184.3,255.7 184.7,255.6 185.1,255.6 185.4,255.5 185.8,255.4 186.2,255.4 186.5,255.3 186.9,255.3 187.3,255.2 187.6,255.2 188.0,255.1 188.4,255.1 188.7,255.0 189.1,255.0 189.5,255.0 189.9,254.9 190.3,254.9 190.7,254.9 191.1,254.9 191.5,254.9 191.9,254.9 192.2,254.9 192.6,254.9 193.0,255.0 193.4,255.2 193.9,255.6 194.3,256.0 194.7,256.7 195.1,257.5 195.5,258.4 195.9,259.2 196.3,259.8 196.6,260.4 197.0,260.8 197.4,261.0 197.9,261.1 198.3,261.3 198.7,261.6 199.2,261.9 199.6,262.4 200.0,262.9 200.4,263.6 200.8,264.5 201.2,265.5 201.6,267.0 201.9,269.0 202.3,271.2 202.7,273.5 203.0,276.0 203.4,278.4 203.8,281.1 204.3,283.7 204.7,285.6 205.1,287.0 205.5,288.1 205.9,288.5 206.3,288.4 206.7,288.1 207.0,287.7 207.4,287.3 207.8,286.9 208.3,286.4 208.7,285.8 209.1,284.5 209.6,282.7 210.1,279.7 210.6,276.6 211.1,274.2 211.6,272.6 212.0,272.0 212.4,271.5 212.8,271.1 213.2,270.8 213.6,270.6 214.0,270.3 214.4,270.1 214.8,270.0 215.1,269.8 215.5,269.6 215.9,269.4 216.3,269.1 216.7,268.6 217.2,267.9 217.6,267.2 218.0,266.3 218.5,265.5 218.9,264.7 219.3,264.1 219.7,263.5 220.1,263.0 220.5,262.5 220.9,262.1 221.3,261.7 221.7,261.3 222.1,261.0 222.5,260.8 222.9,260.7 223.3,260.7 223.7,260.9 224.1,261.1 224.5,261.2 224.9,261.3 225.3,261.1 225.8,260.7 226.2,260.3 226.6,260.1 227.0,259.8 227.4,259.6 227.8,259.4 228.2,259.3 228.6,259.3 229.0,259.2 229.4,259.2 229.7,259.2 230.1,259.1 230.5,259.1 230.9,259.1 231.4,259.6 231.8,260.0 232.2,259.8 232.6,259.4 232.9,258.8 233.3,258.4 233.7,258.1 234.0,258.0 234.4,257.9 234.8,257.8 235.1,257.7 235.4,257.6 235.8,257.6 236.2,257.5 236.5,257.5 236.8,257.4 237.2,257.4 237.5,257.3 237.9,257.3 238.2,257.3 238.6,257.2 238.9,257.2 239.3,257.1 239.7,257.1 240.0,257.0 240.4,256.9 240.7,256.9 241.1,256.8 241.4,256.7 241.8,256.6 242.1,256.5 242.5,256.5 242.8,256.4 243.2,256.3 243.6,256.2 243.9,256.1 244.3,256.0 244.6,255.9 245.0,255.9 245.3,255.8 245.7,255.7 246.0,255.6 246.4,255.5 246.8,255.5 247.1,255.4 247.5,255.3 247.8,255.3 248.2,255.2 248.5,255.1 248.9,255.1 249.2,255.0 249.6,255.0 249.9,255.0 250.3,254.9 250.7,254.9 251.0,254.9 251.3,254.8 251.7,254.8 252.0,254.8 252.4,254.7 252.8,254.7 253.1,254.7 253.4,254.6 253.8,254.6 254.2,254.6 254.5,254.6 254.8,254.5 255.2,254.5 255.5,254.5 255.9,254.4 256.2,254.4 256.6,254.4 256.9,254.4 257.3,254.4 257.6,254.3 258.0,254.3 258.4,254.3 258.7,254.3 259.1,254.2 259.4,254.2 259.8,254.2 260.1,254.2 260.4,254.2 260.8,254.2 261.1,254.1 261.5,254.1 261.9,254.1 262.2,254.1 262.6,254.1 262.9,254.1 263.2,254.1 263.6,254.0 263.9,254.0 264.3,254.0 264.6,254.0 265.0,254.0 265.4,254.0 265.7,254.0 266.1,254.0 266.4,254.0 266.8,254.0 267.1,253.9 267.5,253.9 267.8,253.9 268.2,253.9 268.5,253.9 268.9,253.9 269.2,253.9 269.6,253.9 269.9,253.9 270.3,253.9 270.6,253.9 271.0,253.9 271.3,253.9 271.7,253.9 272.0,253.8 272.4,253.8 272.7,253.8 273.1,253.8 273.5,253.8 273.8,253.8 274.2,253.8 274.5,253.8 274.9,253.8 275.2,253.8 275.6,253.8 275.9,253.8 276.3,253.8 276.6,253.8 277.0,253.8 277.3,253.8 277.7,253.8 278.0,253.8 278.4,253.8 278.7,253.7 279.1,253.7 279.4,253.7 279.8,253.7 280.1,253.7 280.5,253.7 280.8,253.7 281.2,253.7 281.5,253.7 281.9,253.7 282.3,253.7 282.6,253.7 283.0,253.7 283.3,253.7 283.7,253.7 284.0,253.7 284.4,253.7 284.7,253.7 285.1,253.7 285.4,253.7 285.8,253.7 286.1,253.7 286.5,253.7 286.8,253.6 287.2,253.6 287.5,253.6 287.9,253.6 288.2,253.6 288.6,253.6 288.9,253.6 289.3,253.6 289.6,253.6 290.0,253.6 290.4,253.6 290.7,253.6 291.1,253.6 291.4,253.6 291.8,253.6 292.1,253.6 292.5,253.6 292.8,253.6 293.2,253.6 293.5,253.5 293.9,253.5 294.2,253.5 294.6,253.5 294.9,253.5 295.3,253.5 295.6,253.5 296.0,253.5 296.3,253.5 296.7,253.5 297.0,253.5 297.4,253.5 297.7,253.5 298.1,253.5 298.4,253.5 298.8,253.5 299.1,253.5 299.5,253.5 299.8,253.5 300.2,253.5 300.5,253.4 300.9,253.4 301.2,253.4 301.6,253.4 301.9,253.4 302.3,253.4 302.6,253.4 303.0,253.4 303.3,253.4 303.7,253.4 304.0,253.4 304.4,253.4 304.7,253.4 305.1,253.4 305.4,253.4 305.8,253.4 306.1,253.4 306.5,253.4 306.9,253.4 307.2,253.4 307.6,253.3 307.9,253.3 308.3,253.3 308.6,253.3 309.0,253.3 309.3,253.3 309.7,253.3 310.0,253.3 310.4,253.3 310.7,253.3 311.1,253.3 311.4,253.3 311.8,253.3 312.1,253.3 312.5,253.3 312.8,253.3 313.2,253.3 313.5,253.3 313.9,253.3 314.2,253.2 314.6,253.2 314.9,253.2 315.3,253.2 315.6,253.2 316.0,253.2 316.3,253.2 316.7,253.2 317.0,253.2 317.4,253.2 317.7,253.2 318.1,253.2 318.4,253.2 318.8,253.2 319.1,253.2 319.5,253.2 319.8,253.2 320.2,253.2 320.5,253.1 320.9,253.1 321.2,253.1 321.6,253.1 321.9,253.1 322.3,253.1 322.6,253.1 323.0,253.1 323.4,253.1 323.7,253.1 324.1,253.1 324.4,253.1 324.8,253.1 325.1,253.1 325.5,253.0 325.8,253.0 326.2,253.0 326.5,253.0 326.9,253.0 327.2,253.0 327.6,253.0 327.9,253.0 328.3,253.0 328.6,253.0 329.0,253.0 329.3,253.0 329.7,252.9 330.0,252.9 330.4,252.9 330.7,252.9 331.1,252.9 331.4,252.9 331.8,252.9 332.1,252.9 332.5,252.9 332.9,252.9 333.2,252.8 333.6,252.8 333.9,252.8 334.3,252.8 334.6,252.8 335.0,252.8 335.3,252.8 335.7,252.8 336.0,252.8 336.4,252.7 336.7,252.7 337.1,252.7 337.4,252.7 337.8,252.7 338.1,252.7 338.5,252.7 338.8,252.7 339.2,252.7 339.5,252.6 339.9,252.6 340.2,252.6 340.6,252.6 340.9,252.6 341.3,252.6 341.6,252.6 342.0,252.6 342.4,252.6 342.7,252.5 343.1,252.5 343.4,252.5 343.8,252.5 344.1,252.5 344.5,252.5 344.8,252.5 345.2,252.5 345.5,252.5 345.9,252.4 346.2,252.4 346.6,252.4 346.9,252.4 347.3,252.4 347.6,252.4 348.0,252.4 348.3,252.4 348.7,252.4 349.0,252.4 349.4,252.4 349.7,252.3 350.1,252.3 350.4,252.3 350.8,252.3 351.1,252.3 351.5,252.3 351.9,252.3 352.2,252.3 352.6,252.3 352.9,252.3 353.3,252.3 353.6,252.3 354.0,252.3 354.3,252.3 354.7,252.3 355.0,252.2 355.4,252.2 355.7,252.2 356.1,252.2 356.4,252.2 356.8,252.2 357.1,252.2 357.5,252.2 357.8,252.2 358.2,252.2 358.5,252.2 358.9,252.2 359.2,252.2 359.6,252.2 359.9,252.2 360.3,252.2 360.6,252.2 361.0,252.2 361.4,252.2 361.7,252.2 362.1,252.2 362.4,252.3 362.8,252.3 363.1,252.4 363.5,252.4 363.9,252.5 364.2,252.6 364.6,252.7 364.9,252.7 365.3,252.8 365.6,252.9 366.0,253.0 366.4,253.1 366.7,253.2 367.1,253.4 367.4,253.6 367.8,253.8 368.1,254.0 368.5,254.2 368.8,254.5 369.2,254.7 369.5,255.0 369.9,255.3 370.2,255.6 370.6,255.9 370.9,256.3 371.3,256.6 371.6,256.9 372.0,257.3 372.3,257.6 372.7,258.0 373.1,258.4 373.4,258.9 373.8,259.5 374.1,260.2 374.5,260.9 374.9,261.6 375.2,262.4 375.6,263.1 376.0,263.9 376.3,264.5 376.7,265.2 377.1,265.7 377.4,266.2 377.8,266.5 378.1,266.7 378.5,266.8 378.9,266.7 379.2,266.2 379.6,265.6 380.0,264.8 380.3,263.9 380.7,262.8 381.1,261.8 381.4,260.7 381.8,259.7 382.2,258.8 382.5,258.1 382.9,257.5 383.3,257.1 383.6,256.6 384.0,256.2 384.4,255.8 384.7,255.5 385.1,255.1 385.4,254.8 385.8,254.5 386.2,254.3 386.5,254.1 386.9,253.9 387.3,253.7 387.7,253.6 388.1,253.4 388.4,253.3 388.8,253.2 389.2,253.1 389.6,253.0 390.0,253.0 390.4,253.0 390.8,253.2 391.1,253.4 391.5,253.7 391.9,254.1 392.3,254.5 392.7,255.1 393.0,255.7 393.4,256.5 393.8,257.3 394.2,259.7 394.7,263.7 395.1,268.0 395.6,273.2 396.0,276.5 396.4,274.7 396.8,271.1 397.2,268.0 397.6,265.9 398.0,264.0 398.4,262.2 398.8,261.0 399.2,260.4 399.6,260.2 399.9,260.1 400.3,260.0 400.7,260.0 401.1,260.2 401.5,260.8 401.9,261.4 402.3,261.6 402.7,261.0 403.1,259.6 403.4,258.2 403.8,257.3 404.2,257.0 404.6,256.7 405.0,256.4 405.4,256.2 405.7,256.0 406.1,255.9 406.5,255.8 406.9,255.8 407.3,255.9 407.7,256.0 408.0,256.3 408.4,256.8 408.8,257.3 409.2,258.0 409.6,261.3 409.9,266.8 410.3,269.6 411.0,263.4 411.4,264.3 411.8,266.5 412.2,279.6 412.7,291.1 413.1,288.2 413.4,281.6 413.8,274.4 414.1,269.6 414.5,266.9 414.9,264.5 415.3,262.6 415.7,261.2 416.1,260.4 416.5,260.0 416.8,259.6 417.2,259.3 417.5,259.2 417.9,259.1 418.3,259.7 418.8,261.3 419.2,263.4 419.6,266.4 419.9,271.2 420.3,276.2 420.6,280.3 421.0,281.9 421.4,280.0 421.8,275.4 422.1,270.3 422.5,266.5 422.9,263.8 423.3,261.3 423.7,259.5 424.1,258.8 424.6,259.0 425.0,259.6 425.4,261.6 425.8,265.0 426.5,274.2 427.0,271.9 427.4,267.2 427.9,263.4 428.2,261.7 428.6,260.2 428.9,258.7 429.3,257.4 429.6,256.3 430.0,255.4 430.3,254.6 430.7,254.2 431.1,253.9 431.5,253.6 431.9,253.3 432.2,253.2 432.6,253.0 433.0,253.0 433.4,253.1 433.8,253.5 434.1,254.0 434.5,254.7 434.9,255.6 435.3,256.5 435.7,258.0 436.0,260.5 436.4,263.5 436.7,266.7 437.1,269.6 437.5,273.1 437.9,277.1 438.3,280.9 438.7,283.8 439.1,284.9 439.5,282.4 439.8,277.5 440.2,274.2 440.6,273.1 441.0,272.6 441.4,275.9 441.8,281.9 442.2,287.4 442.6,293.5 443.0,300.0 443.4,308.7 443.8,319.1 444.2,327.8 444.6,331.4 445.0,331.1 445.4,330.4 445.8,329.3 446.1,327.9 446.5,326.3 446.9,324.5 447.3,321.5 447.6,317.1 448.0,313.0 448.4,310.7 448.8,309.9 449.1,309.4 449.5,309.2 449.9,311.6 450.3,316.0 450.7,318.4 451.1,316.7 451.4,312.7 451.8,308.1 452.2,304.6 452.6,302.3 453.0,300.3 453.4,298.5 453.8,296.9 454.2,295.5 454.6,294.2 455.0,293.1 455.3,291.9 455.7,290.7 456.1,289.2 456.5,287.5 456.9,285.5 457.2,283.5 457.6,281.5 458.0,279.4 458.4,277.4 458.8,275.3 459.2,273.3 459.6,271.3 460.0,269.3 460.4,267.0 460.7,264.9 461.1,263.4 461.5,262.8 461.9,265.1 462.3,270.2 462.7,275.9 463.1,282.6 463.5,290.8 463.9,297.7 464.3,300.6 464.7,300.2 465.1,299.1 465.4,297.6 465.8,296.0 466.2,293.8 466.6,291.0 467.0,287.9 467.4,285.2 467.8,282.8 468.2,280.4 468.6,278.0 468.9,275.7 469.3,273.5 469.7,271.5 470.1,269.7 470.5,268.2 470.9,266.9 471.2,265.6 471.6,264.5 472.0,263.4 472.4,262.4 472.8,261.6 473.1,260.9 473.5,260.5 473.9,260.2 474.3,259.9 474.7,259.6 475.1,259.4 475.5,259.2 475.9,259.2 476.3,259.3 476.6,259.6 477.0,260.0 477.4,260.5 477.8,262.2 478.2,265.6 478.6,270.3 479.0,275.9 479.5,291.3 480.0,303.0 480.4,299.5 480.8,291.5 481.2,282.4 481.6,275.9 482.0,272.1 482.4,268.8 482.8,266.0 483.2,263.7 483.6,262.0 484.0,260.7 484.4,259.5 484.8,258.5 485.1,257.7 485.5,257.0 485.9,256.6 486.3,256.3 486.6,256.0 487.0,255.7 487.3,255.5 487.7,255.3 488.0,255.1 488.4,254.9 488.7,254.8 489.1,254.7 489.4,254.6 489.8,254.6 490.2,254.6 490.6,254.7 490.9,254.8 491.3,254.9 491.7,255.1 492.1,255.2 492.5,255.4 492.8,255.6 493.2,255.7 493.6,255.8 494.0,255.9 494.3,256.0 494.7,256.1 495.0,256.2 495.4,256.3 495.7,256.4 496.1,256.4 496.4,256.5 496.8,256.6 497.1,256.6 497.5,256.6 497.9,256.5 498.3,256.1 498.7,255.6 499.1,255.1 499.4,254.5 499.8,254.0 500.2,253.6 500.6,253.5 501.0,253.5 501.3,253.6 501.7,253.6 502.0,253.7 502.4,253.9 502.8,254.0 503.1,254.1 503.5,254.3 503.8,254.5 504.2,254.6 504.6,254.8 504.9,255.0 505.3,255.2 505.6,255.3 506.0,255.5 506.4,255.7 506.7,255.8 507.1,256.0 507.4,256.1 507.8,256.3 508.1,256.5 508.5,256.6 508.8,256.8 509.2,257.0 509.5,257.2 509.9,257.3 510.2,257.5 510.6,257.7 511.0,257.9 511.3,258.1 511.7,258.3 512.0,258.6 512.4,258.8 512.7,259.1 513.1,259.3 513.4,259.4 513.8,259.6 514.1,259.7 514.5,259.7 514.9,259.7 515.2,259.6 515.6,259.4 515.9,259.2 516.3,259.0 516.6,258.8 517.0,258.6 517.3,258.4 517.7,258.2 518.0,258.1 518.4,258.1 518.8,258.2 519.1,258.5 519.5,259.0 519.8,259.7 520.2,260.5 520.6,263.8 521.1,268.7 521.5,271.3 522.0,267.2 522.5,262.8 522.9,262.4 523.4,262.1 523.8,262.0 524.2,263.4 524.6,264.8 525.0,264.0 525.4,262.5 525.8,261.7 526.2,261.7 526.6,261.7 526.9,261.8 527.3,261.8 527.7,261.9 528.1,261.9 528.4,262.0 528.8,262.0 529.2,262.0 529.6,261.9 530.0,261.7 530.4,261.3 530.8,260.9 531.1,260.4 531.5,259.9 531.9,259.4 532.3,258.9 532.7,258.4 533.1,258.0 533.5,257.5 533.8,256.9 534.2,256.4 534.6,255.9 535.0,255.4 535.4,255.0 535.8,254.6 536.2,254.2 536.6,253.8 537.0,253.5 537.3,253.1 537.7,252.7 538.1,252.4 538.5,252.0 539.0,251.5" stroke="#3c3c3c" /></g>
<path d="M56.5,9.6 L539.2,9.6 L539.2,332.6" fill="none" stroke="#8a8a8a" stroke-width="1.4"/>
<path d="M56.5,8.9 L56.5,332.6 L539.8000000000001,332.6" fill="none" stroke="#111" stroke-width="1.5"/>
<g stroke="#111" stroke-width="1.3"><line x1="56.50" y1="332.6" x2="56.50" y2="338.6" /><line x1="90.01" y1="332.6" x2="90.01" y2="336.1" /><line x1="123.52" y1="332.6" x2="123.52" y2="338.6" /><line x1="157.02" y1="332.6" x2="157.02" y2="336.1" /><line x1="190.53" y1="332.6" x2="190.53" y2="338.6" /><line x1="224.04" y1="332.6" x2="224.04" y2="336.1" /><line x1="257.55" y1="332.6" x2="257.55" y2="338.6" /><line x1="291.05" y1="332.6" x2="291.05" y2="336.1" /><line x1="324.56" y1="332.6" x2="324.56" y2="338.6" /><line x1="358.07" y1="332.6" x2="358.07" y2="336.1" /><line x1="391.58" y1="332.6" x2="391.58" y2="338.6" /><line x1="425.08" y1="332.6" x2="425.08" y2="336.1" /><line x1="458.59" y1="332.6" x2="458.59" y2="338.6" /><line x1="492.10" y1="332.6" x2="492.10" y2="336.1" /><line x1="525.61" y1="332.6" x2="525.61" y2="338.6" /></g>
<g class="tl"><text x="56.50" y="352" text-anchor="middle">4000</text><text x="123.52" y="352" text-anchor="middle">3500</text><text x="190.53" y="352" text-anchor="middle">3000</text><text x="257.55" y="352" text-anchor="middle">2500</text><text x="324.56" y="352" text-anchor="middle">2000</text><text x="391.58" y="352" text-anchor="middle">1500</text><text x="458.59" y="352" text-anchor="middle">1000</text><text x="525.61" y="352" text-anchor="middle">500</text></g>
<text transform="translate(225.1,33.8) scale(1.061,1)" class="cl">Blend/0.80 % TiO<tspan dy="3.2" font-size="8.9">2</tspan><tspan dy="-3.2"> NPs</tspan></text><text transform="translate(223.4,87.9) scale(1.061,1)" class="cl">Blend/0.40 % TiO<tspan dy="3.2" font-size="8.9">2</tspan><tspan dy="-3.2"> NPs</tspan></text><text transform="translate(223.2,152.7) scale(1.065,1)" class="cl">Blend/0.20 % TiO<tspan dy="3.2" font-size="8.9">2</tspan><tspan dy="-3.2"> NPs</tspan></text><text transform="translate(222.3,201.6) scale(1.066,1)" class="cl">Blend/0.10 % TiO<tspan dy="3.2" font-size="8.9">2</tspan><tspan dy="-3.2"> NPs</tspan></text><text transform="translate(217.8,248.9) scale(1.067,1)" class="cl">Pure blend (PEO/CMC)</text>
<text class="ax" transform="translate(219.8,380.7) scale(1.05,1)">Wavenumber (cm<tspan dy="-5.3" font-size="8.6">-1</tspan><tspan dy="5.3">)</tspan></text>
<text class="ax" transform="translate(17.9,248.7) rotate(-90) scale(1.06,1)">Transmittance (a. u.)</text>
</svg>
</body></html>
